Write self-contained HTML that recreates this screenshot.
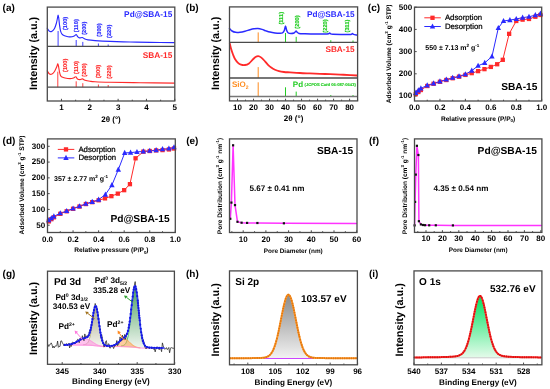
<!DOCTYPE html>
<html><head><meta charset="utf-8"><style>
html,body{margin:0;padding:0;background:#fff;}
svg{display:block;filter:blur(0.3px);font-family:"Liberation Sans", sans-serif;text-rendering:geometricPrecision;}
</style></head><body>
<svg width="550" height="389" viewBox="0 0 550 389">
<defs><linearGradient id="g1" gradientUnits="userSpaceOnUse" x1="0" y1="304" x2="0" y2="347"><stop offset="0" stop-color="#a4a282"/><stop offset="1" stop-color="#f6f6f0"/></linearGradient><linearGradient id="g2" gradientUnits="userSpaceOnUse" x1="0" y1="284" x2="0" y2="348"><stop offset="0" stop-color="#449c58"/><stop offset="1" stop-color="#f0f6f0"/></linearGradient><linearGradient id="gh" gradientUnits="userSpaceOnUse" x1="0" y1="294.7" x2="0" y2="358.3"><stop offset="0" stop-color="#8a8a8a"/><stop offset="1" stop-color="#f2f2f2"/></linearGradient><linearGradient id="gi" gradientUnits="userSpaceOnUse" x1="0" y1="295.9" x2="0" y2="357.6"><stop offset="0" stop-color="#00e060"/><stop offset="1" stop-color="#e4fbea"/></linearGradient></defs>
<rect width="550" height="389" fill="#fff"/>
<path d="M47.30,28.30 C47.67,28.80 48.72,30.82 49.50,31.30 C50.28,31.78 51.17,31.67 52.00,31.20 C52.83,30.73 53.78,29.78 54.50,28.50 C55.22,27.22 55.82,25.17 56.30,23.50 C56.78,21.83 57.10,19.92 57.40,18.50 C57.70,17.08 57.87,15.00 58.10,15.00 C58.33,15.00 58.55,16.75 58.80,18.50 C59.05,20.25 59.30,23.38 59.60,25.50 C59.90,27.62 60.20,29.75 60.60,31.20 C61.00,32.65 61.35,33.43 62.00,34.20 C62.65,34.97 63.50,35.38 64.50,35.80 C65.50,36.22 66.75,36.53 68.00,36.70 C69.25,36.87 70.92,36.95 72.00,36.80 C73.08,36.65 73.80,36.18 74.50,35.80 C75.20,35.42 75.68,34.37 76.20,34.50 C76.72,34.63 77.05,36.03 77.60,36.60 C78.15,37.17 78.72,37.75 79.50,37.90 C80.28,38.05 81.47,37.35 82.30,37.50 C83.13,37.65 83.55,38.40 84.50,38.80 C85.45,39.20 86.25,39.60 88.00,39.90 C89.75,40.20 91.33,40.35 95.00,40.60 C98.67,40.85 104.17,41.17 110.00,41.40 C115.83,41.63 123.33,41.83 130.00,42.00 C136.67,42.17 142.62,42.30 150.00,42.40 C157.38,42.50 170.25,42.57 174.30,42.60" stroke="#2a2aff" stroke-width="1.15" fill="none" stroke-linejoin="round" stroke-linecap="round"/>
<path d="M47.30,71.00 C47.67,71.50 48.72,73.50 49.50,74.00 C50.28,74.50 51.17,74.42 52.00,74.00 C52.83,73.58 53.78,72.53 54.50,71.50 C55.22,70.47 55.85,68.80 56.30,67.80 C56.75,66.80 56.95,66.17 57.20,65.50 C57.45,64.83 57.58,63.72 57.80,63.80 C58.02,63.88 58.23,64.72 58.50,66.00 C58.77,67.28 59.07,69.92 59.40,71.50 C59.73,73.08 60.07,74.58 60.50,75.50 C60.93,76.42 61.25,76.58 62.00,77.00 C62.75,77.42 63.67,77.73 65.00,78.00 C66.33,78.27 68.58,78.60 70.00,78.60 C71.42,78.60 72.52,78.30 73.50,78.00 C74.48,77.70 75.23,76.63 75.90,76.80 C76.57,76.97 76.82,78.53 77.50,79.00 C78.18,79.47 79.17,79.62 80.00,79.60 C80.83,79.58 81.67,78.80 82.50,78.90 C83.33,79.00 83.75,79.82 85.00,80.20 C86.25,80.58 88.33,80.95 90.00,81.20 C91.67,81.45 91.67,81.53 95.00,81.70 C98.33,81.87 102.50,82.03 110.00,82.20 C117.50,82.37 129.28,82.55 140.00,82.70 C150.72,82.85 168.58,83.03 174.30,83.10" stroke="#ff2a2a" stroke-width="1.15" fill="none" stroke-linejoin="round" stroke-linecap="round"/>
<line x1="58.10" y1="31.00" x2="58.10" y2="46.30" stroke="#2a2aff" stroke-width="0.9"/>
<line x1="76.20" y1="40.00" x2="76.20" y2="46.30" stroke="#2a2aff" stroke-width="0.9"/>
<line x1="82.80" y1="41.90" x2="82.80" y2="46.30" stroke="#2a2aff" stroke-width="0.9"/>
<line x1="98.40" y1="43.50" x2="98.40" y2="46.30" stroke="#2a2aff" stroke-width="0.9"/>
<line x1="108.20" y1="44.50" x2="108.20" y2="46.30" stroke="#2a2aff" stroke-width="0.9"/>
<line x1="57.80" y1="71.70" x2="57.80" y2="87.20" stroke="#ff2a2a" stroke-width="0.9"/>
<line x1="76.20" y1="81.30" x2="76.20" y2="87.20" stroke="#ff2a2a" stroke-width="0.9"/>
<line x1="82.80" y1="83.20" x2="82.80" y2="87.20" stroke="#ff2a2a" stroke-width="0.9"/>
<line x1="98.40" y1="84.50" x2="98.40" y2="87.20" stroke="#ff2a2a" stroke-width="0.9"/>
<line x1="108.20" y1="85.00" x2="108.20" y2="87.20" stroke="#ff2a2a" stroke-width="0.9"/>
<text x="67.30" y="23.40" font-size="5.7" font-weight="bold" text-anchor="middle" fill="#2a2aff" transform="rotate(-90 67.295 23.4)" stroke="#2a2aff" stroke-width="0.15">(100)</text>
<text x="78.00" y="25.70" font-size="5.7" font-weight="bold" text-anchor="middle" fill="#2a2aff" transform="rotate(-90 77.995 25.7)" stroke="#2a2aff" stroke-width="0.15">(110)</text>
<text x="85.70" y="28.20" font-size="5.7" font-weight="bold" text-anchor="middle" fill="#2a2aff" transform="rotate(-90 85.69500000000001 28.2)" stroke="#2a2aff" stroke-width="0.15">(200)</text>
<text x="100.59" y="30.00" font-size="5.7" font-weight="bold" text-anchor="middle" fill="#2a2aff" transform="rotate(-90 100.595 30.0)" stroke="#2a2aff" stroke-width="0.15">(300)</text>
<text x="110.70" y="31.30" font-size="5.7" font-weight="bold" text-anchor="middle" fill="#2a2aff" transform="rotate(-90 110.69500000000001 31.3)" stroke="#2a2aff" stroke-width="0.15">(220)</text>
<text x="67.40" y="65.30" font-size="5.7" font-weight="bold" text-anchor="middle" fill="#ff2a2a" transform="rotate(-90 67.39500000000001 65.3)" stroke="#ff2a2a" stroke-width="0.15">(100)</text>
<text x="77.90" y="67.50" font-size="5.7" font-weight="bold" text-anchor="middle" fill="#ff2a2a" transform="rotate(-90 77.89500000000001 67.5)" stroke="#ff2a2a" stroke-width="0.15">(110)</text>
<text x="85.80" y="70.10" font-size="5.7" font-weight="bold" text-anchor="middle" fill="#ff2a2a" transform="rotate(-90 85.795 70.1)" stroke="#ff2a2a" stroke-width="0.15">(200)</text>
<text x="100.40" y="71.40" font-size="5.7" font-weight="bold" text-anchor="middle" fill="#ff2a2a" transform="rotate(-90 100.39500000000001 71.4)" stroke="#ff2a2a" stroke-width="0.15">(300)</text>
<text x="111.20" y="72.10" font-size="5.7" font-weight="bold" text-anchor="middle" fill="#ff2a2a" transform="rotate(-90 111.19500000000001 72.1)" stroke="#ff2a2a" stroke-width="0.15">(220)</text>
<text x="172.30" y="17.30" font-size="8.3" font-weight="bold" text-anchor="end" fill="#2a2aff">Pd@SBA-15</text>
<text x="172.30" y="57.50" font-size="8.3" font-weight="bold" text-anchor="end" fill="#ff2a2a">SBA-15</text>
<line x1="47.30" y1="46.30" x2="174.80" y2="46.30" stroke="#4a4a4a" stroke-width="1.3"/>
<line x1="47.30" y1="87.20" x2="174.80" y2="87.20" stroke="#4a4a4a" stroke-width="1.3"/>
<rect x="47.30" y="7.10" width="127.50" height="93.90" fill="none" stroke="#4a4a4a" stroke-width="1.3"/>
<line x1="61.46" y1="101.00" x2="61.46" y2="98.80" stroke="#4a4a4a" stroke-width="1.0"/>
<text x="61.46" y="109.60" font-size="8" font-weight="bold" text-anchor="middle" fill="#000">1</text>
<line x1="89.79" y1="101.00" x2="89.79" y2="98.80" stroke="#4a4a4a" stroke-width="1.0"/>
<text x="89.79" y="109.60" font-size="8" font-weight="bold" text-anchor="middle" fill="#000">2</text>
<line x1="118.12" y1="101.00" x2="118.12" y2="98.80" stroke="#4a4a4a" stroke-width="1.0"/>
<text x="118.12" y="109.60" font-size="8" font-weight="bold" text-anchor="middle" fill="#000">3</text>
<line x1="146.45" y1="101.00" x2="146.45" y2="98.80" stroke="#4a4a4a" stroke-width="1.0"/>
<text x="146.45" y="109.60" font-size="8" font-weight="bold" text-anchor="middle" fill="#000">4</text>
<line x1="174.78" y1="101.00" x2="174.78" y2="98.80" stroke="#4a4a4a" stroke-width="1.0"/>
<text x="174.78" y="109.60" font-size="8" font-weight="bold" text-anchor="middle" fill="#000">5</text>
<line x1="75.63" y1="101.00" x2="75.63" y2="99.70" stroke="#4a4a4a" stroke-width="1.0"/>
<line x1="103.96" y1="101.00" x2="103.96" y2="99.70" stroke="#4a4a4a" stroke-width="1.0"/>
<line x1="132.29" y1="101.00" x2="132.29" y2="99.70" stroke="#4a4a4a" stroke-width="1.0"/>
<line x1="160.62" y1="101.00" x2="160.62" y2="99.70" stroke="#4a4a4a" stroke-width="1.0"/>
<text x="111" y="121.8" font-size="8" text-anchor="middle"><tspan font-weight="bold">2θ </tspan><tspan font-weight="bold">(°)</tspan></text>
<text x="36.64" y="53.40" font-size="10.8" font-weight="bold" text-anchor="middle" fill="#000" transform="rotate(-90 36.64 53.4)">Intensity (a.u.)</text>
<text x="2.60" y="10.70" font-size="10" font-weight="bold" text-anchor="start" fill="#000">(a)</text>
<line x1="258.20" y1="32.40" x2="258.20" y2="42.30" stroke="#ff8c1e" stroke-width="1.0"/>
<line x1="258.20" y1="67.10" x2="258.20" y2="78.00" stroke="#ff8c1e" stroke-width="1.0"/>
<line x1="258.20" y1="82.30" x2="258.20" y2="96.60" stroke="#ff8c1e" stroke-width="1.0"/>
<line x1="285.50" y1="33.00" x2="285.50" y2="42.30" stroke="#22cc22" stroke-width="1.0"/>
<line x1="296.20" y1="36.80" x2="296.20" y2="42.30" stroke="#22cc22" stroke-width="1.0"/>
<line x1="330.80" y1="40.20" x2="330.80" y2="42.30" stroke="#22cc22" stroke-width="1.0"/>
<line x1="353.00" y1="40.50" x2="353.00" y2="42.30" stroke="#22cc22" stroke-width="1.0"/>
<line x1="285.50" y1="87.30" x2="285.50" y2="96.60" stroke="#22cc22" stroke-width="1.0"/>
<line x1="296.20" y1="91.60" x2="296.20" y2="96.60" stroke="#22cc22" stroke-width="1.0"/>
<line x1="330.80" y1="95.00" x2="330.80" y2="96.60" stroke="#22cc22" stroke-width="1.0"/>
<line x1="353.00" y1="95.00" x2="353.00" y2="96.60" stroke="#22cc22" stroke-width="1.0"/>
<path d="M229.50,28.50 C229.92,28.92 230.98,30.37 232.00,31.00 C233.02,31.63 234.27,32.10 235.60,32.30 C236.93,32.50 238.43,32.38 240.00,32.20 C241.57,32.02 243.33,31.62 245.00,31.20 C246.67,30.78 248.50,30.10 250.00,29.70 C251.50,29.30 252.68,29.00 254.00,28.80 C255.32,28.60 256.57,28.40 257.90,28.50 C259.23,28.60 260.65,29.00 262.00,29.40 C263.35,29.80 264.67,30.45 266.00,30.90 C267.33,31.35 268.50,31.77 270.00,32.10 C271.50,32.43 273.50,32.72 275.00,32.90 C276.50,33.08 277.75,33.20 279.00,33.20 C280.25,33.20 281.62,33.35 282.50,32.90 C283.38,32.45 283.80,31.65 284.30,30.50 C284.80,29.35 285.10,26.00 285.50,26.00 C285.90,26.00 286.23,29.33 286.70,30.50 C287.17,31.67 287.58,32.50 288.30,33.00 C289.02,33.50 290.05,33.50 291.00,33.50 C291.95,33.50 293.28,33.28 294.00,33.00 C294.72,32.72 294.95,32.12 295.30,31.80 C295.65,31.48 295.82,31.07 296.10,31.10 C296.38,31.13 296.52,31.62 297.00,32.00 C297.48,32.38 297.67,33.10 299.00,33.40 C300.33,33.70 302.33,33.70 305.00,33.80 C307.67,33.90 311.67,33.95 315.00,34.00 C318.33,34.05 322.75,34.13 325.00,34.10 C327.25,34.07 327.73,33.98 328.50,33.80 C329.27,33.62 329.23,33.00 329.60,33.00 C329.97,33.00 330.13,33.58 330.70,33.80 C331.27,34.02 330.62,34.18 333.00,34.30 C335.38,34.42 342.00,34.48 345.00,34.50 C348.00,34.52 349.78,34.58 351.00,34.40 C352.22,34.22 351.88,33.40 352.30,33.40 C352.72,33.40 352.72,34.13 353.50,34.40 C354.28,34.67 356.42,34.90 357.00,35.00" stroke="#2a2aff" stroke-width="1.5" fill="none" stroke-linejoin="round" stroke-linecap="round"/>
<path d="M229.80,43.60 C230.00,44.42 230.47,46.68 231.00,48.50 C231.53,50.32 232.33,52.75 233.00,54.50 C233.67,56.25 234.17,57.62 235.00,59.00 C235.83,60.38 237.00,61.87 238.00,62.80 C239.00,63.73 239.83,64.23 241.00,64.60 C242.17,64.97 243.67,65.20 245.00,65.00 C246.33,64.80 247.72,64.30 249.00,63.40 C250.28,62.50 251.62,60.65 252.70,59.60 C253.78,58.55 254.58,57.67 255.50,57.10 C256.42,56.53 257.28,56.15 258.20,56.20 C259.12,56.25 259.87,56.55 261.00,57.40 C262.13,58.25 263.83,60.07 265.00,61.30 C266.17,62.53 266.97,63.75 268.00,64.80 C269.03,65.85 270.03,66.77 271.20,67.60 C272.37,68.43 273.70,69.20 275.00,69.80 C276.30,70.40 277.50,70.83 279.00,71.20 C280.50,71.57 282.17,71.80 284.00,72.00 C285.83,72.20 287.33,72.23 290.00,72.40 C292.67,72.57 296.67,72.83 300.00,73.00 C303.33,73.17 306.67,73.27 310.00,73.40 C313.33,73.53 316.67,73.67 320.00,73.80 C323.33,73.93 326.67,74.07 330.00,74.20 C333.33,74.33 336.67,74.45 340.00,74.60 C343.33,74.75 347.17,74.95 350.00,75.10 C352.83,75.25 355.83,75.43 357.00,75.50" stroke="#ff2a2a" stroke-width="1.8" fill="none" stroke-linejoin="round" stroke-linecap="round"/>
<text x="283.50" y="18.30" font-size="5.7" font-weight="bold" text-anchor="middle" fill="#22cc22" transform="rotate(-90 283.495 18.3)" stroke="#22cc22" stroke-width="0.15">(111)</text>
<text x="298.60" y="22.00" font-size="5.7" font-weight="bold" text-anchor="middle" fill="#22cc22" transform="rotate(-90 298.595 22.0)" stroke="#22cc22" stroke-width="0.15">(200)</text>
<text x="326.60" y="26.00" font-size="5.7" font-weight="bold" text-anchor="middle" fill="#22cc22" transform="rotate(-90 326.595 26.0)" stroke="#22cc22" stroke-width="0.15">(220)</text>
<text x="349.00" y="26.00" font-size="5.7" font-weight="bold" text-anchor="middle" fill="#22cc22" transform="rotate(-90 348.995 26.0)" stroke="#22cc22" stroke-width="0.15">(311)</text>
<text x="354.50" y="16.50" font-size="8.2" font-weight="bold" text-anchor="end" fill="#2a2aff">Pd@SBA-15</text>
<text x="354.60" y="51.60" font-size="8.2" font-weight="bold" text-anchor="end" fill="#ff2a2a">SBA-15</text>
<text x="231.9" y="86.9" font-size="8" font-weight="bold" fill="#ff8c1e">SiO<tspan font-size="5" dy="2">2</tspan></text>
<text x="292.80" y="87.00" font-size="8" font-weight="bold" text-anchor="start" fill="#22cc22">Pd</text>
<text x="304.60" y="86.00" font-size="4.1" font-weight="bold" text-anchor="start" fill="#22cc22" stroke="#22cc22" stroke-width="0.12">(JCPDS Card 06-087-0643)</text>
<line x1="229.50" y1="96.60" x2="357.60" y2="96.60" stroke="#777" stroke-width="1.5"/>
<line x1="229.50" y1="42.30" x2="357.60" y2="42.30" stroke="#4a4a4a" stroke-width="1.3"/>
<line x1="229.50" y1="78.00" x2="357.60" y2="78.00" stroke="#4a4a4a" stroke-width="1.3"/>
<rect x="229.50" y="6.90" width="128.10" height="94.00" fill="none" stroke="#4a4a4a" stroke-width="1.3"/>
<line x1="237.51" y1="100.90" x2="237.51" y2="98.70" stroke="#4a4a4a" stroke-width="1.0"/>
<text x="237.51" y="110.10" font-size="8" font-weight="bold" text-anchor="middle" fill="#000">10</text>
<line x1="253.52" y1="100.90" x2="253.52" y2="98.70" stroke="#4a4a4a" stroke-width="1.0"/>
<text x="253.52" y="110.10" font-size="8" font-weight="bold" text-anchor="middle" fill="#000">20</text>
<line x1="269.53" y1="100.90" x2="269.53" y2="98.70" stroke="#4a4a4a" stroke-width="1.0"/>
<text x="269.53" y="110.10" font-size="8" font-weight="bold" text-anchor="middle" fill="#000">30</text>
<line x1="285.55" y1="100.90" x2="285.55" y2="98.70" stroke="#4a4a4a" stroke-width="1.0"/>
<text x="285.55" y="110.10" font-size="8" font-weight="bold" text-anchor="middle" fill="#000">40</text>
<line x1="301.56" y1="100.90" x2="301.56" y2="98.70" stroke="#4a4a4a" stroke-width="1.0"/>
<text x="301.56" y="110.10" font-size="8" font-weight="bold" text-anchor="middle" fill="#000">50</text>
<line x1="317.57" y1="100.90" x2="317.57" y2="98.70" stroke="#4a4a4a" stroke-width="1.0"/>
<text x="317.57" y="110.10" font-size="8" font-weight="bold" text-anchor="middle" fill="#000">60</text>
<line x1="333.58" y1="100.90" x2="333.58" y2="98.70" stroke="#4a4a4a" stroke-width="1.0"/>
<text x="333.58" y="110.10" font-size="8" font-weight="bold" text-anchor="middle" fill="#000">70</text>
<line x1="349.60" y1="100.90" x2="349.60" y2="98.70" stroke="#4a4a4a" stroke-width="1.0"/>
<text x="349.60" y="110.10" font-size="8" font-weight="bold" text-anchor="middle" fill="#000">80</text>
<line x1="245.51" y1="100.90" x2="245.51" y2="99.60" stroke="#4a4a4a" stroke-width="1.0"/>
<line x1="261.53" y1="100.90" x2="261.53" y2="99.60" stroke="#4a4a4a" stroke-width="1.0"/>
<line x1="277.54" y1="100.90" x2="277.54" y2="99.60" stroke="#4a4a4a" stroke-width="1.0"/>
<line x1="293.55" y1="100.90" x2="293.55" y2="99.60" stroke="#4a4a4a" stroke-width="1.0"/>
<line x1="309.56" y1="100.90" x2="309.56" y2="99.60" stroke="#4a4a4a" stroke-width="1.0"/>
<line x1="325.58" y1="100.90" x2="325.58" y2="99.60" stroke="#4a4a4a" stroke-width="1.0"/>
<line x1="341.59" y1="100.90" x2="341.59" y2="99.60" stroke="#4a4a4a" stroke-width="1.0"/>
<line x1="357.60" y1="100.90" x2="357.60" y2="99.60" stroke="#4a4a4a" stroke-width="1.0"/>
<text x="293.6" y="121.4" font-size="8" text-anchor="middle"><tspan font-weight="bold">2θ </tspan><tspan font-weight="bold">(°)</tspan></text>
<text x="218.64" y="53.30" font-size="10.8" font-weight="bold" text-anchor="middle" fill="#000" transform="rotate(-90 218.64000000000001 53.3)">Intensity (a.u.)</text>
<text x="185.80" y="10.70" font-size="10" font-weight="bold" text-anchor="start" fill="#000">(b)</text>
<path d="M415.77,94.22 L418.32,92.00 L420.86,90.01 L427.22,86.01 L433.58,83.79 L439.94,81.79 L446.30,80.02 L452.66,78.24 L459.02,76.69 L465.38,74.91 L471.74,73.13 L478.10,71.14 L484.46,69.14 L490.82,66.92 L497.18,64.25 L502.78,59.81 L509.14,33.84 L516.26,20.96 L522.62,19.63 L528.98,18.97 L535.34,16.75 L540.43,14.97" stroke="#ff2a2a" stroke-width="1.0" fill="none" stroke-linejoin="round" stroke-linecap="round"/>
<path d="M540.43,13.64 L535.34,15.19 L528.98,16.75 L522.62,17.63 L516.26,18.97 L509.90,20.08 L503.54,20.96 L498.32,28.07 L491.96,56.48 L484.71,62.92 L478.10,65.81 L471.74,70.69 L465.38,74.24 L459.02,76.24 L452.66,77.80 L446.30,79.57 L439.94,81.35 L433.58,83.35 L427.22,85.34 L420.86,88.45 L418.32,90.45 L415.77,92.89" stroke="#2a2aff" stroke-width="1.0" fill="none" stroke-linejoin="round" stroke-linecap="round"/>
<rect x="413.62" y="92.07" width="4.3" height="4.3" fill="#ff2a2a"/>
<rect x="416.17" y="89.85" width="4.3" height="4.3" fill="#ff2a2a"/>
<rect x="418.71" y="87.86" width="4.3" height="4.3" fill="#ff2a2a"/>
<rect x="425.07" y="83.86" width="4.3" height="4.3" fill="#ff2a2a"/>
<rect x="431.43" y="81.64" width="4.3" height="4.3" fill="#ff2a2a"/>
<rect x="437.79" y="79.64" width="4.3" height="4.3" fill="#ff2a2a"/>
<rect x="444.15" y="77.87" width="4.3" height="4.3" fill="#ff2a2a"/>
<rect x="450.51" y="76.09" width="4.3" height="4.3" fill="#ff2a2a"/>
<rect x="456.87" y="74.54" width="4.3" height="4.3" fill="#ff2a2a"/>
<rect x="463.23" y="72.76" width="4.3" height="4.3" fill="#ff2a2a"/>
<rect x="469.59" y="70.98" width="4.3" height="4.3" fill="#ff2a2a"/>
<rect x="475.95" y="68.99" width="4.3" height="4.3" fill="#ff2a2a"/>
<rect x="482.31" y="66.99" width="4.3" height="4.3" fill="#ff2a2a"/>
<rect x="488.67" y="64.77" width="4.3" height="4.3" fill="#ff2a2a"/>
<rect x="495.03" y="62.10" width="4.3" height="4.3" fill="#ff2a2a"/>
<rect x="500.63" y="57.66" width="4.3" height="4.3" fill="#ff2a2a"/>
<rect x="506.99" y="31.69" width="4.3" height="4.3" fill="#ff2a2a"/>
<rect x="514.11" y="18.81" width="4.3" height="4.3" fill="#ff2a2a"/>
<rect x="520.47" y="17.48" width="4.3" height="4.3" fill="#ff2a2a"/>
<rect x="526.83" y="16.82" width="4.3" height="4.3" fill="#ff2a2a"/>
<rect x="533.19" y="14.60" width="4.3" height="4.3" fill="#ff2a2a"/>
<rect x="538.28" y="12.82" width="4.3" height="4.3" fill="#ff2a2a"/>
<path d="M540.43,10.56 L543.13,15.69 L537.73,15.69 Z" fill="#2a2aff"/>
<path d="M535.34,12.11 L538.04,17.24 L532.64,17.24 Z" fill="#2a2aff"/>
<path d="M528.98,13.67 L531.68,18.80 L526.28,18.80 Z" fill="#2a2aff"/>
<path d="M522.62,14.56 L525.32,19.69 L519.92,19.69 Z" fill="#2a2aff"/>
<path d="M516.26,15.89 L518.96,21.02 L513.56,21.02 Z" fill="#2a2aff"/>
<path d="M509.90,17.00 L512.60,22.13 L507.20,22.13 Z" fill="#2a2aff"/>
<path d="M503.54,17.89 L506.24,23.02 L500.84,23.02 Z" fill="#2a2aff"/>
<path d="M498.32,24.99 L501.02,30.12 L495.62,30.12 Z" fill="#2a2aff"/>
<path d="M491.96,53.41 L494.66,58.54 L489.26,58.54 Z" fill="#2a2aff"/>
<path d="M484.71,59.84 L487.41,64.97 L482.01,64.97 Z" fill="#2a2aff"/>
<path d="M478.10,62.73 L480.80,67.86 L475.40,67.86 Z" fill="#2a2aff"/>
<path d="M471.74,67.61 L474.44,72.74 L469.04,72.74 Z" fill="#2a2aff"/>
<path d="M465.38,71.17 L468.08,76.30 L462.68,76.30 Z" fill="#2a2aff"/>
<path d="M459.02,73.16 L461.72,78.29 L456.32,78.29 Z" fill="#2a2aff"/>
<path d="M452.66,74.72 L455.36,79.85 L449.96,79.85 Z" fill="#2a2aff"/>
<path d="M446.30,76.49 L449.00,81.62 L443.60,81.62 Z" fill="#2a2aff"/>
<path d="M439.94,78.27 L442.64,83.40 L437.24,83.40 Z" fill="#2a2aff"/>
<path d="M433.58,80.27 L436.28,85.40 L430.88,85.40 Z" fill="#2a2aff"/>
<path d="M427.22,82.27 L429.92,87.40 L424.52,87.40 Z" fill="#2a2aff"/>
<path d="M420.86,85.37 L423.56,90.50 L418.16,90.50 Z" fill="#2a2aff"/>
<path d="M418.32,87.37 L421.02,92.50 L415.62,92.50 Z" fill="#2a2aff"/>
<path d="M415.77,89.81 L418.47,94.94 L413.07,94.94 Z" fill="#2a2aff"/>
<line x1="424.30" y1="17.80" x2="440.80" y2="17.80" stroke="#ff2a2a" stroke-width="1.0"/>
<rect x="430.35" y="15.65" width="4.3" height="4.3" fill="#ff2a2a"/>
<text x="444.90" y="20.10" font-size="7.8" font-weight="normal" text-anchor="start" fill="#000" stroke="#000" stroke-width="0.22">Adsorption</text>
<line x1="424.30" y1="26.50" x2="440.80" y2="26.50" stroke="#2a2aff" stroke-width="1.0"/>
<path d="M432.50,23.42 L435.20,28.55 L429.80,28.55 Z" fill="#2a2aff"/>
<text x="444.90" y="28.80" font-size="7.8" font-weight="normal" text-anchor="start" fill="#000" stroke="#000" stroke-width="0.22">Desorption</text>
<text x="425.3" y="50.0" font-size="7" font-weight="bold">550 ± 7.13 m<tspan font-size="4.5" dy="-2.6">2</tspan><tspan dy="2.6"> g</tspan><tspan font-size="4.5" dy="-2.6">-1</tspan></text>
<text x="537.40" y="89.60" font-size="10.2" font-weight="bold" text-anchor="end" fill="#000">SBA-15</text>
<rect x="414.50" y="7.20" width="127.20" height="93.80" fill="none" stroke="#4a4a4a" stroke-width="1.3"/>
<line x1="414.50" y1="96.00" x2="416.70" y2="96.00" stroke="#4a4a4a" stroke-width="1.0"/>
<text x="412.20" y="98.35" font-size="8" font-weight="bold" text-anchor="end" fill="#000">100</text>
<line x1="414.50" y1="73.80" x2="416.70" y2="73.80" stroke="#4a4a4a" stroke-width="1.0"/>
<text x="412.20" y="76.15" font-size="8" font-weight="bold" text-anchor="end" fill="#000">200</text>
<line x1="414.50" y1="51.60" x2="416.70" y2="51.60" stroke="#4a4a4a" stroke-width="1.0"/>
<text x="412.20" y="53.95" font-size="8" font-weight="bold" text-anchor="end" fill="#000">300</text>
<line x1="414.50" y1="29.40" x2="416.70" y2="29.40" stroke="#4a4a4a" stroke-width="1.0"/>
<text x="412.20" y="31.75" font-size="8" font-weight="bold" text-anchor="end" fill="#000">400</text>
<line x1="414.50" y1="7.20" x2="416.70" y2="7.20" stroke="#4a4a4a" stroke-width="1.0"/>
<text x="412.20" y="9.55" font-size="8" font-weight="bold" text-anchor="end" fill="#000">500</text>
<line x1="414.50" y1="101.00" x2="414.50" y2="98.80" stroke="#4a4a4a" stroke-width="1.0"/>
<text x="414.50" y="110.10" font-size="8" font-weight="bold" text-anchor="middle" fill="#000">0.0</text>
<line x1="427.22" y1="101.00" x2="427.22" y2="99.70" stroke="#4a4a4a" stroke-width="1.0"/>
<line x1="439.94" y1="101.00" x2="439.94" y2="98.80" stroke="#4a4a4a" stroke-width="1.0"/>
<text x="439.94" y="110.10" font-size="8" font-weight="bold" text-anchor="middle" fill="#000">0.2</text>
<line x1="452.66" y1="101.00" x2="452.66" y2="99.70" stroke="#4a4a4a" stroke-width="1.0"/>
<line x1="465.38" y1="101.00" x2="465.38" y2="98.80" stroke="#4a4a4a" stroke-width="1.0"/>
<text x="465.38" y="110.10" font-size="8" font-weight="bold" text-anchor="middle" fill="#000">0.4</text>
<line x1="478.10" y1="101.00" x2="478.10" y2="99.70" stroke="#4a4a4a" stroke-width="1.0"/>
<line x1="490.82" y1="101.00" x2="490.82" y2="98.80" stroke="#4a4a4a" stroke-width="1.0"/>
<text x="490.82" y="110.10" font-size="8" font-weight="bold" text-anchor="middle" fill="#000">0.6</text>
<line x1="503.54" y1="101.00" x2="503.54" y2="99.70" stroke="#4a4a4a" stroke-width="1.0"/>
<line x1="516.26" y1="101.00" x2="516.26" y2="98.80" stroke="#4a4a4a" stroke-width="1.0"/>
<text x="516.26" y="110.10" font-size="8" font-weight="bold" text-anchor="middle" fill="#000">0.8</text>
<line x1="528.98" y1="101.00" x2="528.98" y2="99.70" stroke="#4a4a4a" stroke-width="1.0"/>
<line x1="541.70" y1="101.00" x2="541.70" y2="98.80" stroke="#4a4a4a" stroke-width="1.0"/>
<text x="541.70" y="110.10" font-size="8" font-weight="bold" text-anchor="middle" fill="#000">1.0</text>
<text x="478.10" y="120.70" font-size="6.6" font-weight="bold" text-anchor="middle">Relative pressure (P/P<tspan font-size="4.4" dy="1.6">0</tspan><tspan dy="-1.6">)</tspan></text>
<text x="390.80" y="53.90" font-size="6.62" font-weight="bold" text-anchor="middle" transform="rotate(-90 390.80 53.90)">Adsorbed Volume (cm<tspan font-size="4.4" dy="-2.4">3</tspan><tspan dy="2.4"> g</tspan><tspan font-size="4.4" dy="-2.4">-1</tspan><tspan dy="2.4"> STP)</tspan></text>
<text x="367.80" y="10.70" font-size="10" font-weight="bold" text-anchor="start" fill="#000">(c)</text>
<path d="M48.78,221.41 L51.33,219.20 L53.89,217.31 L60.28,213.84 L66.67,211.31 L73.06,208.79 L79.45,206.58 L85.84,204.05 L92.23,202.16 L98.62,200.27 L105.01,198.37 L111.40,196.16 L117.79,193.64 L124.18,190.17 L129.93,184.17 L135.55,158.29 L143.35,151.67 L149.74,151.03 L156.13,150.40 L162.52,150.09 L168.91,149.46 L174.02,148.51" stroke="#ff2a2a" stroke-width="1.0" fill="none" stroke-linejoin="round" stroke-linecap="round"/>
<path d="M174.02,147.25 L168.91,148.51 L162.52,149.14 L156.13,150.09 L149.74,150.72 L143.35,151.35 L136.96,151.98 L130.57,152.61 L124.69,152.93 L118.30,169.65 L111.91,185.12 L105.39,194.59 L98.62,199.64 L92.23,201.85 L85.84,203.74 L79.45,206.26 L73.06,208.47 L66.67,211.00 L60.28,213.21 L53.89,216.36 L51.33,218.26 L48.78,220.15" stroke="#2a2aff" stroke-width="1.0" fill="none" stroke-linejoin="round" stroke-linecap="round"/>
<rect x="46.63" y="219.26" width="4.3" height="4.3" fill="#ff2a2a"/>
<rect x="49.18" y="217.05" width="4.3" height="4.3" fill="#ff2a2a"/>
<rect x="51.74" y="215.16" width="4.3" height="4.3" fill="#ff2a2a"/>
<rect x="58.13" y="211.69" width="4.3" height="4.3" fill="#ff2a2a"/>
<rect x="64.52" y="209.16" width="4.3" height="4.3" fill="#ff2a2a"/>
<rect x="70.91" y="206.64" width="4.3" height="4.3" fill="#ff2a2a"/>
<rect x="77.30" y="204.43" width="4.3" height="4.3" fill="#ff2a2a"/>
<rect x="83.69" y="201.90" width="4.3" height="4.3" fill="#ff2a2a"/>
<rect x="90.08" y="200.01" width="4.3" height="4.3" fill="#ff2a2a"/>
<rect x="96.47" y="198.12" width="4.3" height="4.3" fill="#ff2a2a"/>
<rect x="102.86" y="196.22" width="4.3" height="4.3" fill="#ff2a2a"/>
<rect x="109.25" y="194.01" width="4.3" height="4.3" fill="#ff2a2a"/>
<rect x="115.64" y="191.49" width="4.3" height="4.3" fill="#ff2a2a"/>
<rect x="122.03" y="188.02" width="4.3" height="4.3" fill="#ff2a2a"/>
<rect x="127.78" y="182.02" width="4.3" height="4.3" fill="#ff2a2a"/>
<rect x="133.40" y="156.14" width="4.3" height="4.3" fill="#ff2a2a"/>
<rect x="141.20" y="149.52" width="4.3" height="4.3" fill="#ff2a2a"/>
<rect x="147.59" y="148.88" width="4.3" height="4.3" fill="#ff2a2a"/>
<rect x="153.98" y="148.25" width="4.3" height="4.3" fill="#ff2a2a"/>
<rect x="160.37" y="147.94" width="4.3" height="4.3" fill="#ff2a2a"/>
<rect x="166.76" y="147.31" width="4.3" height="4.3" fill="#ff2a2a"/>
<rect x="171.87" y="146.36" width="4.3" height="4.3" fill="#ff2a2a"/>
<path d="M174.02,144.17 L176.72,149.30 L171.32,149.30 Z" fill="#2a2aff"/>
<path d="M168.91,145.43 L171.61,150.56 L166.21,150.56 Z" fill="#2a2aff"/>
<path d="M162.52,146.06 L165.22,151.19 L159.82,151.19 Z" fill="#2a2aff"/>
<path d="M156.13,147.01 L158.83,152.14 L153.43,152.14 Z" fill="#2a2aff"/>
<path d="M149.74,147.64 L152.44,152.77 L147.04,152.77 Z" fill="#2a2aff"/>
<path d="M143.35,148.27 L146.05,153.40 L140.65,153.40 Z" fill="#2a2aff"/>
<path d="M136.96,148.90 L139.66,154.03 L134.26,154.03 Z" fill="#2a2aff"/>
<path d="M130.57,149.53 L133.27,154.66 L127.87,154.66 Z" fill="#2a2aff"/>
<path d="M124.69,149.85 L127.39,154.98 L121.99,154.98 Z" fill="#2a2aff"/>
<path d="M118.30,166.58 L121.00,171.71 L115.60,171.71 Z" fill="#2a2aff"/>
<path d="M111.91,182.04 L114.61,187.17 L109.21,187.17 Z" fill="#2a2aff"/>
<path d="M105.39,191.51 L108.09,196.64 L102.69,196.64 Z" fill="#2a2aff"/>
<path d="M98.62,196.56 L101.32,201.69 L95.92,201.69 Z" fill="#2a2aff"/>
<path d="M92.23,198.77 L94.93,203.90 L89.53,203.90 Z" fill="#2a2aff"/>
<path d="M85.84,200.66 L88.54,205.79 L83.14,205.79 Z" fill="#2a2aff"/>
<path d="M79.45,203.19 L82.15,208.32 L76.75,208.32 Z" fill="#2a2aff"/>
<path d="M73.06,205.40 L75.76,210.53 L70.36,210.53 Z" fill="#2a2aff"/>
<path d="M66.67,207.92 L69.37,213.05 L63.97,213.05 Z" fill="#2a2aff"/>
<path d="M60.28,210.13 L62.98,215.26 L57.58,215.26 Z" fill="#2a2aff"/>
<path d="M53.89,213.29 L56.59,218.42 L51.19,218.42 Z" fill="#2a2aff"/>
<path d="M51.33,215.18 L54.03,220.31 L48.63,220.31 Z" fill="#2a2aff"/>
<path d="M48.78,217.07 L51.48,222.20 L46.08,222.20 Z" fill="#2a2aff"/>
<line x1="57.80" y1="149.40" x2="74.30" y2="149.40" stroke="#ff2a2a" stroke-width="1.0"/>
<rect x="63.85" y="147.25" width="4.3" height="4.3" fill="#ff2a2a"/>
<text x="78.40" y="151.70" font-size="7.8" font-weight="normal" text-anchor="start" fill="#000" stroke="#000" stroke-width="0.22">Adsorption</text>
<line x1="57.80" y1="157.90" x2="74.30" y2="157.90" stroke="#2a2aff" stroke-width="1.0"/>
<path d="M66.00,154.82 L68.70,159.95 L63.30,159.95 Z" fill="#2a2aff"/>
<text x="78.40" y="160.20" font-size="7.8" font-weight="normal" text-anchor="start" fill="#000" stroke="#000" stroke-width="0.22">Desorption</text>
<text x="54.0" y="180.6" font-size="7" font-weight="bold">357 ± 2.77 m<tspan font-size="4.5" dy="-2.6">2</tspan><tspan dy="2.6"> g</tspan><tspan font-size="4.5" dy="-2.6">-1</tspan></text>
<text x="169.60" y="221.60" font-size="10.2" font-weight="bold" text-anchor="end" fill="#000">Pd@SBA-15</text>
<rect x="47.50" y="138.90" width="127.80" height="93.60" fill="none" stroke="#4a4a4a" stroke-width="1.3"/>
<line x1="47.50" y1="225.20" x2="49.70" y2="225.20" stroke="#4a4a4a" stroke-width="1.0"/>
<text x="45.20" y="227.55" font-size="8" font-weight="bold" text-anchor="end" fill="#000">50</text>
<line x1="47.50" y1="209.42" x2="49.70" y2="209.42" stroke="#4a4a4a" stroke-width="1.0"/>
<text x="45.20" y="211.77" font-size="8" font-weight="bold" text-anchor="end" fill="#000">100</text>
<line x1="47.50" y1="193.64" x2="49.70" y2="193.64" stroke="#4a4a4a" stroke-width="1.0"/>
<text x="45.20" y="195.99" font-size="8" font-weight="bold" text-anchor="end" fill="#000">150</text>
<line x1="47.50" y1="177.86" x2="49.70" y2="177.86" stroke="#4a4a4a" stroke-width="1.0"/>
<text x="45.20" y="180.21" font-size="8" font-weight="bold" text-anchor="end" fill="#000">200</text>
<line x1="47.50" y1="162.08" x2="49.70" y2="162.08" stroke="#4a4a4a" stroke-width="1.0"/>
<text x="45.20" y="164.43" font-size="8" font-weight="bold" text-anchor="end" fill="#000">250</text>
<line x1="47.50" y1="146.30" x2="49.70" y2="146.30" stroke="#4a4a4a" stroke-width="1.0"/>
<text x="45.20" y="148.65" font-size="8" font-weight="bold" text-anchor="end" fill="#000">300</text>
<line x1="47.50" y1="232.50" x2="47.50" y2="230.30" stroke="#4a4a4a" stroke-width="1.0"/>
<text x="47.50" y="241.60" font-size="8" font-weight="bold" text-anchor="middle" fill="#000">0.0</text>
<line x1="60.28" y1="232.50" x2="60.28" y2="231.20" stroke="#4a4a4a" stroke-width="1.0"/>
<line x1="73.06" y1="232.50" x2="73.06" y2="230.30" stroke="#4a4a4a" stroke-width="1.0"/>
<text x="73.06" y="241.60" font-size="8" font-weight="bold" text-anchor="middle" fill="#000">0.2</text>
<line x1="85.84" y1="232.50" x2="85.84" y2="231.20" stroke="#4a4a4a" stroke-width="1.0"/>
<line x1="98.62" y1="232.50" x2="98.62" y2="230.30" stroke="#4a4a4a" stroke-width="1.0"/>
<text x="98.62" y="241.60" font-size="8" font-weight="bold" text-anchor="middle" fill="#000">0.4</text>
<line x1="111.40" y1="232.50" x2="111.40" y2="231.20" stroke="#4a4a4a" stroke-width="1.0"/>
<line x1="124.18" y1="232.50" x2="124.18" y2="230.30" stroke="#4a4a4a" stroke-width="1.0"/>
<text x="124.18" y="241.60" font-size="8" font-weight="bold" text-anchor="middle" fill="#000">0.6</text>
<line x1="136.96" y1="232.50" x2="136.96" y2="231.20" stroke="#4a4a4a" stroke-width="1.0"/>
<line x1="149.74" y1="232.50" x2="149.74" y2="230.30" stroke="#4a4a4a" stroke-width="1.0"/>
<text x="149.74" y="241.60" font-size="8" font-weight="bold" text-anchor="middle" fill="#000">0.8</text>
<line x1="162.52" y1="232.50" x2="162.52" y2="231.20" stroke="#4a4a4a" stroke-width="1.0"/>
<line x1="175.30" y1="232.50" x2="175.30" y2="230.30" stroke="#4a4a4a" stroke-width="1.0"/>
<text x="175.30" y="241.60" font-size="8" font-weight="bold" text-anchor="middle" fill="#000">1.0</text>
<text x="111.40" y="252.20" font-size="6.6" font-weight="bold" text-anchor="middle">Relative pressure (P/P<tspan font-size="4.4" dy="1.6">0</tspan><tspan dy="-1.6">)</tspan></text>
<text x="23.80" y="185.00" font-size="6.62" font-weight="bold" text-anchor="middle" transform="rotate(-90 23.80 185.00)">Adsorbed Volume (cm<tspan font-size="4.4" dy="-2.4">3</tspan><tspan dy="2.4"> g</tspan><tspan font-size="4.4" dy="-2.4">-1</tspan><tspan dy="2.4"> STP)</tspan></text>
<text x="2.60" y="143.70" font-size="10" font-weight="bold" text-anchor="start" fill="#000">(d)</text>
<path d="M230.30,218.80 L231.40,202.60 L233.10,145.30 L235.00,205.10 L237.50,221.80 L241.60,222.70 L247.10,222.90 L257.40,223.00 L283.90,223.30 L356.40,223.50" stroke="#ff33ff" stroke-width="1.5" fill="none" stroke-linejoin="round" stroke-linecap="round"/>
<rect x="229.20" y="217.70" width="2.2" height="2.2" fill="#111"/>
<rect x="230.30" y="201.50" width="2.2" height="2.2" fill="#111"/>
<rect x="232.00" y="144.20" width="2.2" height="2.2" fill="#111"/>
<rect x="233.90" y="204.00" width="2.2" height="2.2" fill="#111"/>
<rect x="236.40" y="220.70" width="2.2" height="2.2" fill="#111"/>
<rect x="240.50" y="221.60" width="2.2" height="2.2" fill="#111"/>
<rect x="246.00" y="221.80" width="2.2" height="2.2" fill="#111"/>
<rect x="256.30" y="221.90" width="2.2" height="2.2" fill="#111"/>
<rect x="282.80" y="222.20" width="2.2" height="2.2" fill="#111"/>
<text x="353.20" y="153.90" font-size="10.2" font-weight="bold" text-anchor="end" fill="#000">SBA-15</text>
<text x="249.50" y="190.50" font-size="8.1" font-weight="bold" text-anchor="start" fill="#000">5.67 ± 0.41 nm</text>
<rect x="229.50" y="138.90" width="127.50" height="93.60" fill="none" stroke="#4a4a4a" stroke-width="1.3"/>
<line x1="243.20" y1="232.50" x2="243.20" y2="230.30" stroke="#4a4a4a" stroke-width="1.0"/>
<text x="243.20" y="241.50" font-size="8" font-weight="bold" text-anchor="middle" fill="#000">10</text>
<line x1="265.90" y1="232.50" x2="265.90" y2="230.30" stroke="#4a4a4a" stroke-width="1.0"/>
<text x="265.90" y="241.50" font-size="8" font-weight="bold" text-anchor="middle" fill="#000">20</text>
<line x1="288.60" y1="232.50" x2="288.60" y2="230.30" stroke="#4a4a4a" stroke-width="1.0"/>
<text x="288.60" y="241.50" font-size="8" font-weight="bold" text-anchor="middle" fill="#000">30</text>
<line x1="311.30" y1="232.50" x2="311.30" y2="230.30" stroke="#4a4a4a" stroke-width="1.0"/>
<text x="311.30" y="241.50" font-size="8" font-weight="bold" text-anchor="middle" fill="#000">40</text>
<line x1="334.00" y1="232.50" x2="334.00" y2="230.30" stroke="#4a4a4a" stroke-width="1.0"/>
<text x="334.00" y="241.50" font-size="8" font-weight="bold" text-anchor="middle" fill="#000">50</text>
<line x1="356.70" y1="232.50" x2="356.70" y2="230.30" stroke="#4a4a4a" stroke-width="1.0"/>
<text x="356.70" y="241.50" font-size="8" font-weight="bold" text-anchor="middle" fill="#000">60</text>
<line x1="231.85" y1="232.50" x2="231.85" y2="231.20" stroke="#4a4a4a" stroke-width="1.0"/>
<line x1="254.55" y1="232.50" x2="254.55" y2="231.20" stroke="#4a4a4a" stroke-width="1.0"/>
<line x1="277.25" y1="232.50" x2="277.25" y2="231.20" stroke="#4a4a4a" stroke-width="1.0"/>
<line x1="299.95" y1="232.50" x2="299.95" y2="231.20" stroke="#4a4a4a" stroke-width="1.0"/>
<line x1="322.65" y1="232.50" x2="322.65" y2="231.20" stroke="#4a4a4a" stroke-width="1.0"/>
<line x1="345.35" y1="232.50" x2="345.35" y2="231.20" stroke="#4a4a4a" stroke-width="1.0"/>
<text x="293.25" y="252.50" font-size="6.4" font-weight="bold" text-anchor="middle" fill="#000">Pore Diameter (nm)</text>
<text x="221.80" y="186.00" font-size="6.55" font-weight="bold" text-anchor="middle" transform="rotate(-90 221.80 186.00)">Pore Distribution (cm<tspan font-size="4.3" dy="-2.4">3</tspan><tspan dy="2.4"> g</tspan><tspan font-size="4.3" dy="-2.4">-1</tspan><tspan dy="2.4"> nm</tspan><tspan font-size="4.3" dy="-2.4">-1</tspan><tspan dy="2.4">)</tspan></text>
<text x="186.20" y="143.70" font-size="10" font-weight="bold" text-anchor="start" fill="#000">(e)</text>
<path d="M414.60,225.40 L415.10,201.90 L415.80,174.60 L416.90,145.80 L418.40,155.00 L418.90,221.20 L420.90,224.40 L423.10,225.00 L425.10,225.20 L429.20,225.30 L435.80,225.30 L452.90,225.40 L541.30,225.40" stroke="#ff33ff" stroke-width="1.5" fill="none" stroke-linejoin="round" stroke-linecap="round"/>
<rect x="413.50" y="224.30" width="2.2" height="2.2" fill="#111"/>
<rect x="414.00" y="200.80" width="2.2" height="2.2" fill="#111"/>
<rect x="414.70" y="173.50" width="2.2" height="2.2" fill="#111"/>
<rect x="415.80" y="144.70" width="2.2" height="2.2" fill="#111"/>
<rect x="417.30" y="153.90" width="2.2" height="2.2" fill="#111"/>
<rect x="417.80" y="220.10" width="2.2" height="2.2" fill="#111"/>
<rect x="419.80" y="223.30" width="2.2" height="2.2" fill="#111"/>
<rect x="422.00" y="223.90" width="2.2" height="2.2" fill="#111"/>
<rect x="424.00" y="224.10" width="2.2" height="2.2" fill="#111"/>
<rect x="428.10" y="224.20" width="2.2" height="2.2" fill="#111"/>
<rect x="434.70" y="224.20" width="2.2" height="2.2" fill="#111"/>
<rect x="451.80" y="224.30" width="2.2" height="2.2" fill="#111"/>
<text x="536.80" y="153.90" font-size="10.2" font-weight="bold" text-anchor="end" fill="#000">Pd@SBA-15</text>
<text x="433.50" y="190.50" font-size="8.1" font-weight="bold" text-anchor="start" fill="#000">4.35 ± 0.54 nm</text>
<rect x="414.50" y="138.90" width="127.40" height="93.50" fill="none" stroke="#4a4a4a" stroke-width="1.3"/>
<line x1="426.00" y1="232.40" x2="426.00" y2="230.20" stroke="#4a4a4a" stroke-width="1.0"/>
<text x="426.00" y="241.40" font-size="8" font-weight="bold" text-anchor="middle" fill="#000">10</text>
<line x1="442.40" y1="232.40" x2="442.40" y2="230.20" stroke="#4a4a4a" stroke-width="1.0"/>
<text x="442.40" y="241.40" font-size="8" font-weight="bold" text-anchor="middle" fill="#000">20</text>
<line x1="458.80" y1="232.40" x2="458.80" y2="230.20" stroke="#4a4a4a" stroke-width="1.0"/>
<text x="458.80" y="241.40" font-size="8" font-weight="bold" text-anchor="middle" fill="#000">30</text>
<line x1="475.20" y1="232.40" x2="475.20" y2="230.20" stroke="#4a4a4a" stroke-width="1.0"/>
<text x="475.20" y="241.40" font-size="8" font-weight="bold" text-anchor="middle" fill="#000">40</text>
<line x1="491.60" y1="232.40" x2="491.60" y2="230.20" stroke="#4a4a4a" stroke-width="1.0"/>
<text x="491.60" y="241.40" font-size="8" font-weight="bold" text-anchor="middle" fill="#000">50</text>
<line x1="508.00" y1="232.40" x2="508.00" y2="230.20" stroke="#4a4a4a" stroke-width="1.0"/>
<text x="508.00" y="241.40" font-size="8" font-weight="bold" text-anchor="middle" fill="#000">60</text>
<line x1="524.40" y1="232.40" x2="524.40" y2="230.20" stroke="#4a4a4a" stroke-width="1.0"/>
<text x="524.40" y="241.40" font-size="8" font-weight="bold" text-anchor="middle" fill="#000">70</text>
<line x1="540.80" y1="232.40" x2="540.80" y2="230.20" stroke="#4a4a4a" stroke-width="1.0"/>
<text x="540.80" y="241.40" font-size="8" font-weight="bold" text-anchor="middle" fill="#000">80</text>
<line x1="417.80" y1="232.40" x2="417.80" y2="231.10" stroke="#4a4a4a" stroke-width="1.0"/>
<line x1="434.20" y1="232.40" x2="434.20" y2="231.10" stroke="#4a4a4a" stroke-width="1.0"/>
<line x1="450.60" y1="232.40" x2="450.60" y2="231.10" stroke="#4a4a4a" stroke-width="1.0"/>
<line x1="467.00" y1="232.40" x2="467.00" y2="231.10" stroke="#4a4a4a" stroke-width="1.0"/>
<line x1="483.40" y1="232.40" x2="483.40" y2="231.10" stroke="#4a4a4a" stroke-width="1.0"/>
<line x1="499.80" y1="232.40" x2="499.80" y2="231.10" stroke="#4a4a4a" stroke-width="1.0"/>
<line x1="516.20" y1="232.40" x2="516.20" y2="231.10" stroke="#4a4a4a" stroke-width="1.0"/>
<line x1="532.60" y1="232.40" x2="532.60" y2="231.10" stroke="#4a4a4a" stroke-width="1.0"/>
<text x="478.20" y="252.40" font-size="6.4" font-weight="bold" text-anchor="middle" fill="#000">Pore Diameter (nm)</text>
<text x="406.80" y="186.00" font-size="6.55" font-weight="bold" text-anchor="middle" transform="rotate(-90 406.80 186.00)">Pore Distribution (cm<tspan font-size="4.3" dy="-2.4">3</tspan><tspan dy="2.4"> g</tspan><tspan font-size="4.3" dy="-2.4">-1</tspan><tspan dy="2.4"> nm</tspan><tspan font-size="4.3" dy="-2.4">-1</tspan><tspan dy="2.4">)</tspan></text>
<text x="369.00" y="143.70" font-size="10" font-weight="bold" text-anchor="start" fill="#000">(f)</text>
<path d="M83.70,344.66 L83.95,344.63 L84.20,344.60 L84.45,344.57 L84.70,344.52 L84.95,344.48 L85.20,344.42 L85.45,344.35 L85.70,344.27 L85.95,344.17 L86.20,344.06 L86.45,343.92 L86.70,343.76 L86.95,343.57 L87.20,343.34 L87.45,343.08 L87.70,342.77 L87.95,342.41 L88.20,341.99 L88.45,341.52 L88.70,340.97 L88.95,340.35 L89.20,339.65 L89.45,338.87 L89.70,337.99 L89.95,337.03 L90.20,335.96 L90.45,334.81 L90.70,333.56 L90.95,332.22 L91.20,330.79 L91.45,329.28 L91.70,327.70 L91.95,326.07 L92.20,324.39 L92.45,322.68 L92.70,320.96 L92.95,319.25 L93.20,317.58 L93.45,315.96 L93.70,314.42 L93.95,312.99 L94.20,311.69 L94.45,310.55 L94.70,309.58 L94.95,308.81 L95.20,308.26 L95.45,307.94 L95.70,307.85 L95.95,308.00 L96.20,308.39 L96.45,309.01 L96.70,309.84 L96.95,310.88 L97.20,312.08 L97.45,313.45 L97.70,314.94 L97.95,316.54 L98.20,318.21 L98.45,319.94 L98.70,321.70 L98.95,323.47 L99.20,325.23 L99.45,326.96 L99.70,328.64 L99.95,330.26 L100.20,331.81 L100.45,333.28 L100.70,334.66 L100.95,335.94 L101.20,337.13 L101.45,338.22 L101.70,339.22 L101.95,340.12 L102.20,340.93 L102.45,341.65 L102.70,342.29 L102.95,342.85 L103.20,343.35 L103.45,343.78 L103.70,344.15 L103.95,344.48 L104.20,344.75 L104.45,344.99 L104.70,345.19 L104.95,345.36 L105.20,345.51 L105.45,345.63 L105.70,345.73 L105.95,345.82 L106.20,345.89 L106.45,345.95 L106.70,346.00 L106.95,346.05 L107.20,346.08 L107.45,346.12 L107.70,346.15 L107.70,346.59 L83.70,345.11 Z" stroke="none" stroke-width="0" fill="url(#g1)" stroke-linejoin="round" stroke-linecap="round"/>
<path d="M83.70,344.66 L83.95,344.63 L84.20,344.60 L84.45,344.57 L84.70,344.52 L84.95,344.48 L85.20,344.42 L85.45,344.35 L85.70,344.27 L85.95,344.17 L86.20,344.06 L86.45,343.92 L86.70,343.76 L86.95,343.57 L87.20,343.34 L87.45,343.08 L87.70,342.77 L87.95,342.41 L88.20,341.99 L88.45,341.52 L88.70,340.97 L88.95,340.35 L89.20,339.65 L89.45,338.87 L89.70,337.99 L89.95,337.03 L90.20,335.96 L90.45,334.81 L90.70,333.56 L90.95,332.22 L91.20,330.79 L91.45,329.28 L91.70,327.70 L91.95,326.07 L92.20,324.39 L92.45,322.68 L92.70,320.96 L92.95,319.25 L93.20,317.58 L93.45,315.96 L93.70,314.42 L93.95,312.99 L94.20,311.69 L94.45,310.55 L94.70,309.58 L94.95,308.81 L95.20,308.26 L95.45,307.94 L95.70,307.85 L95.95,308.00 L96.20,308.39 L96.45,309.01 L96.70,309.84 L96.95,310.88 L97.20,312.08 L97.45,313.45 L97.70,314.94 L97.95,316.54 L98.20,318.21 L98.45,319.94 L98.70,321.70 L98.95,323.47 L99.20,325.23 L99.45,326.96 L99.70,328.64 L99.95,330.26 L100.20,331.81 L100.45,333.28 L100.70,334.66 L100.95,335.94 L101.20,337.13 L101.45,338.22 L101.70,339.22 L101.95,340.12 L102.20,340.93 L102.45,341.65 L102.70,342.29 L102.95,342.85 L103.20,343.35 L103.45,343.78 L103.70,344.15 L103.95,344.48 L104.20,344.75 L104.45,344.99 L104.70,345.19 L104.95,345.36 L105.20,345.51 L105.45,345.63 L105.70,345.73 L105.95,345.82 L106.20,345.89 L106.45,345.95 L106.70,346.00 L106.95,346.05 L107.20,346.08 L107.45,346.12 L107.70,346.15" stroke="#a8a070" stroke-width="0.8" fill="none" stroke-linejoin="round" stroke-linecap="round"/>
<path d="M121.45,345.90 L121.70,345.86 L121.95,345.82 L122.20,345.78 L122.45,345.72 L122.70,345.66 L122.95,345.59 L123.20,345.51 L123.45,345.41 L123.70,345.30 L123.95,345.17 L124.20,345.02 L124.45,344.85 L124.70,344.64 L124.95,344.41 L125.20,344.13 L125.45,343.81 L125.70,343.45 L125.95,343.03 L126.20,342.55 L126.45,342.00 L126.70,341.38 L126.95,340.68 L127.20,339.89 L127.45,339.01 L127.70,338.03 L127.95,336.94 L128.20,335.75 L128.45,334.44 L128.70,333.01 L128.95,331.47 L129.20,329.81 L129.45,328.02 L129.70,326.13 L129.95,324.12 L130.20,322.02 L130.45,319.82 L130.70,317.54 L130.95,315.20 L131.20,312.81 L131.45,310.38 L131.70,307.95 L131.95,305.53 L132.20,303.14 L132.45,300.82 L132.70,298.59 L132.95,296.47 L133.20,294.50 L133.45,292.70 L133.70,291.10 L133.95,289.72 L134.20,288.59 L134.45,287.72 L134.70,287.13 L134.95,286.83 L135.20,286.84 L135.45,287.14 L135.70,287.73 L135.95,288.61 L136.20,289.75 L136.45,291.14 L136.70,292.77 L136.95,294.59 L137.20,296.59 L137.45,298.73 L137.70,301.00 L137.95,303.36 L138.20,305.79 L138.45,308.26 L138.70,310.74 L138.95,313.22 L139.20,315.66 L139.45,318.06 L139.70,320.40 L139.95,322.65 L140.20,324.82 L140.45,326.88 L140.70,328.83 L140.95,330.67 L141.20,332.39 L141.45,333.99 L141.70,335.47 L141.95,336.82 L142.20,338.07 L142.45,339.19 L142.70,340.22 L142.95,341.14 L143.20,341.96 L143.45,342.69 L143.70,343.34 L143.95,343.92 L144.20,344.43 L144.45,344.87 L144.70,345.26 L144.95,345.59 L145.20,345.88 L145.45,346.14 L145.70,346.36 L145.95,346.54 L146.20,346.70 L146.45,346.84 L146.70,346.96 L146.95,347.06 L147.20,347.15 L147.45,347.23 L147.70,347.29 L147.95,347.35 L148.20,347.40 L148.45,347.44 L148.70,347.48 L148.70,348.19 L121.45,346.61 Z" stroke="none" stroke-width="0" fill="url(#g2)" stroke-linejoin="round" stroke-linecap="round"/>
<path d="M121.45,345.90 L121.70,345.86 L121.95,345.82 L122.20,345.78 L122.45,345.72 L122.70,345.66 L122.95,345.59 L123.20,345.51 L123.45,345.41 L123.70,345.30 L123.95,345.17 L124.20,345.02 L124.45,344.85 L124.70,344.64 L124.95,344.41 L125.20,344.13 L125.45,343.81 L125.70,343.45 L125.95,343.03 L126.20,342.55 L126.45,342.00 L126.70,341.38 L126.95,340.68 L127.20,339.89 L127.45,339.01 L127.70,338.03 L127.95,336.94 L128.20,335.75 L128.45,334.44 L128.70,333.01 L128.95,331.47 L129.20,329.81 L129.45,328.02 L129.70,326.13 L129.95,324.12 L130.20,322.02 L130.45,319.82 L130.70,317.54 L130.95,315.20 L131.20,312.81 L131.45,310.38 L131.70,307.95 L131.95,305.53 L132.20,303.14 L132.45,300.82 L132.70,298.59 L132.95,296.47 L133.20,294.50 L133.45,292.70 L133.70,291.10 L133.95,289.72 L134.20,288.59 L134.45,287.72 L134.70,287.13 L134.95,286.83 L135.20,286.84 L135.45,287.14 L135.70,287.73 L135.95,288.61 L136.20,289.75 L136.45,291.14 L136.70,292.77 L136.95,294.59 L137.20,296.59 L137.45,298.73 L137.70,301.00 L137.95,303.36 L138.20,305.79 L138.45,308.26 L138.70,310.74 L138.95,313.22 L139.20,315.66 L139.45,318.06 L139.70,320.40 L139.95,322.65 L140.20,324.82 L140.45,326.88 L140.70,328.83 L140.95,330.67 L141.20,332.39 L141.45,333.99 L141.70,335.47 L141.95,336.82 L142.20,338.07 L142.45,339.19 L142.70,340.22 L142.95,341.14 L143.20,341.96 L143.45,342.69 L143.70,343.34 L143.95,343.92 L144.20,344.43 L144.45,344.87 L144.70,345.26 L144.95,345.59 L145.20,345.88 L145.45,346.14 L145.70,346.36 L145.95,346.54 L146.20,346.70 L146.45,346.84 L146.70,346.96 L146.95,347.06 L147.20,347.15 L147.45,347.23 L147.70,347.29 L147.95,347.35 L148.20,347.40 L148.45,347.44 L148.70,347.48" stroke="#30b050" stroke-width="0.8" fill="none" stroke-linejoin="round" stroke-linecap="round"/>
<path d="M64.70,345.03 L64.95,345.02 L65.20,345.01 L65.45,345.00 L65.70,344.98 L65.95,344.97 L66.20,344.96 L66.45,344.94 L66.70,344.93 L66.95,344.91 L67.20,344.89 L67.45,344.87 L67.70,344.85 L67.95,344.82 L68.20,344.79 L68.45,344.77 L68.70,344.73 L68.95,344.70 L69.20,344.66 L69.45,344.63 L69.70,344.58 L69.95,344.54 L70.20,344.49 L70.45,344.44 L70.70,344.39 L70.95,344.33 L71.20,344.27 L71.45,344.21 L71.70,344.14 L71.95,344.07 L72.20,344.00 L72.45,343.92 L72.70,343.84 L72.95,343.75 L73.20,343.66 L73.45,343.57 L73.70,343.47 L73.95,343.37 L74.20,343.26 L74.45,343.15 L74.70,343.04 L74.95,342.92 L75.20,342.80 L75.45,342.68 L75.70,342.55 L75.95,342.42 L76.20,342.29 L76.45,342.16 L76.70,342.02 L76.95,341.88 L77.20,341.74 L77.45,341.59 L77.70,341.45 L77.95,341.31 L78.20,341.16 L78.45,341.02 L78.70,340.87 L78.95,340.73 L79.20,340.58 L79.45,340.44 L79.70,340.31 L79.95,340.17 L80.20,340.04 L80.45,339.91 L80.70,339.78 L80.95,339.66 L81.20,339.54 L81.45,339.43 L81.70,339.32 L81.95,339.22 L82.20,339.13 L82.45,339.04 L82.70,338.96 L82.95,338.89 L83.20,338.83 L83.45,338.77 L83.70,338.72 L83.95,338.68 L84.20,338.65 L84.45,338.63 L84.70,338.62 L84.95,338.61 L85.20,338.62 L85.45,338.63 L85.70,338.65 L85.95,338.69 L86.20,338.73 L86.45,338.78 L86.70,338.83 L86.95,338.90 L87.20,338.98 L87.45,339.06 L87.70,339.15 L87.95,339.25 L88.20,339.35 L88.45,339.47 L88.70,339.59 L88.95,339.71 L89.20,339.84 L89.45,339.98 L89.70,340.12 L89.95,340.27 L90.20,340.42 L90.45,340.57 L90.70,340.73 L90.95,340.89 L91.20,341.05 L91.45,341.22 L91.70,341.38 L91.95,341.55 L92.20,341.72 L92.45,341.89 L92.70,342.06 L92.95,342.23 L93.20,342.40 L93.45,342.56 L93.70,342.73 L93.95,342.89 L94.20,343.06 L94.45,343.21 L94.70,343.37 L94.95,343.53 L95.20,343.68 L95.45,343.82 L95.70,343.97 L95.95,344.11 L96.20,344.25 L96.45,344.38 L96.70,344.51 L96.95,344.63 L97.20,344.75 L97.45,344.86 L97.70,344.97 L97.95,345.08 L98.20,345.18 L98.45,345.28 L98.70,345.37 L98.95,345.46 L99.20,345.54 L99.45,345.62 L99.70,345.69 L99.95,345.76 L100.20,345.83 L100.45,345.89 L100.70,345.95 L100.95,346.00 L101.20,346.05 L101.45,346.10 L101.70,346.15 L101.95,346.19 L102.20,346.22 L102.45,346.26 L102.70,346.29 L102.95,346.32 L103.20,346.35 L103.45,346.37 L103.70,346.40 L103.95,346.42 L104.20,346.44 L104.45,346.45 L104.70,346.47 L104.95,346.48 L105.20,346.50 L105.45,346.51 L105.70,346.52 L105.70,346.58 L64.70,345.10 Z" stroke="none" stroke-width="0" fill="#ff88dd" stroke-linejoin="round" stroke-linecap="round" fill-opacity="0.5"/>
<path d="M64.70,345.03 L64.95,345.02 L65.20,345.01 L65.45,345.00 L65.70,344.98 L65.95,344.97 L66.20,344.96 L66.45,344.94 L66.70,344.93 L66.95,344.91 L67.20,344.89 L67.45,344.87 L67.70,344.85 L67.95,344.82 L68.20,344.79 L68.45,344.77 L68.70,344.73 L68.95,344.70 L69.20,344.66 L69.45,344.63 L69.70,344.58 L69.95,344.54 L70.20,344.49 L70.45,344.44 L70.70,344.39 L70.95,344.33 L71.20,344.27 L71.45,344.21 L71.70,344.14 L71.95,344.07 L72.20,344.00 L72.45,343.92 L72.70,343.84 L72.95,343.75 L73.20,343.66 L73.45,343.57 L73.70,343.47 L73.95,343.37 L74.20,343.26 L74.45,343.15 L74.70,343.04 L74.95,342.92 L75.20,342.80 L75.45,342.68 L75.70,342.55 L75.95,342.42 L76.20,342.29 L76.45,342.16 L76.70,342.02 L76.95,341.88 L77.20,341.74 L77.45,341.59 L77.70,341.45 L77.95,341.31 L78.20,341.16 L78.45,341.02 L78.70,340.87 L78.95,340.73 L79.20,340.58 L79.45,340.44 L79.70,340.31 L79.95,340.17 L80.20,340.04 L80.45,339.91 L80.70,339.78 L80.95,339.66 L81.20,339.54 L81.45,339.43 L81.70,339.32 L81.95,339.22 L82.20,339.13 L82.45,339.04 L82.70,338.96 L82.95,338.89 L83.20,338.83 L83.45,338.77 L83.70,338.72 L83.95,338.68 L84.20,338.65 L84.45,338.63 L84.70,338.62 L84.95,338.61 L85.20,338.62 L85.45,338.63 L85.70,338.65 L85.95,338.69 L86.20,338.73 L86.45,338.78 L86.70,338.83 L86.95,338.90 L87.20,338.98 L87.45,339.06 L87.70,339.15 L87.95,339.25 L88.20,339.35 L88.45,339.47 L88.70,339.59 L88.95,339.71 L89.20,339.84 L89.45,339.98 L89.70,340.12 L89.95,340.27 L90.20,340.42 L90.45,340.57 L90.70,340.73 L90.95,340.89 L91.20,341.05 L91.45,341.22 L91.70,341.38 L91.95,341.55 L92.20,341.72 L92.45,341.89 L92.70,342.06 L92.95,342.23 L93.20,342.40 L93.45,342.56 L93.70,342.73 L93.95,342.89 L94.20,343.06 L94.45,343.21 L94.70,343.37 L94.95,343.53 L95.20,343.68 L95.45,343.82 L95.70,343.97 L95.95,344.11 L96.20,344.25 L96.45,344.38 L96.70,344.51 L96.95,344.63 L97.20,344.75 L97.45,344.86 L97.70,344.97 L97.95,345.08 L98.20,345.18 L98.45,345.28 L98.70,345.37 L98.95,345.46 L99.20,345.54 L99.45,345.62 L99.70,345.69 L99.95,345.76 L100.20,345.83 L100.45,345.89 L100.70,345.95 L100.95,346.00 L101.20,346.05 L101.45,346.10 L101.70,346.15 L101.95,346.19 L102.20,346.22 L102.45,346.26 L102.70,346.29 L102.95,346.32 L103.20,346.35 L103.45,346.37 L103.70,346.40 L103.95,346.42 L104.20,346.44 L104.45,346.45 L104.70,346.47 L104.95,346.48 L105.20,346.50 L105.45,346.51 L105.70,346.52" stroke="#ff88dd" stroke-width="0.9" fill="none" stroke-linejoin="round" stroke-linecap="round"/>
<path d="M108.95,346.53 L109.20,346.52 L109.45,346.50 L109.70,346.49 L109.95,346.47 L110.20,346.45 L110.45,346.43 L110.70,346.41 L110.95,346.38 L111.20,346.35 L111.45,346.32 L111.70,346.28 L111.95,346.24 L112.20,346.19 L112.45,346.14 L112.70,346.09 L112.95,346.03 L113.20,345.96 L113.45,345.89 L113.70,345.81 L113.95,345.72 L114.20,345.63 L114.45,345.53 L114.70,345.42 L114.95,345.30 L115.20,345.18 L115.45,345.05 L115.70,344.91 L115.95,344.76 L116.20,344.61 L116.45,344.45 L116.70,344.28 L116.95,344.10 L117.20,343.91 L117.45,343.72 L117.70,343.52 L117.95,343.32 L118.20,343.11 L118.45,342.89 L118.70,342.68 L118.95,342.46 L119.20,342.23 L119.45,342.01 L119.70,341.79 L119.95,341.57 L120.20,341.35 L120.45,341.13 L120.70,340.92 L120.95,340.72 L121.20,340.52 L121.45,340.33 L121.70,340.16 L121.95,339.99 L122.20,339.83 L122.45,339.69 L122.70,339.56 L122.95,339.45 L123.20,339.35 L123.45,339.27 L123.70,339.21 L123.95,339.16 L124.20,339.14 L124.45,339.13 L124.70,339.14 L124.95,339.16 L125.20,339.21 L125.45,339.27 L125.70,339.35 L125.95,339.45 L126.20,339.57 L126.45,339.70 L126.70,339.84 L126.95,340.00 L127.20,340.17 L127.45,340.36 L127.70,340.55 L127.95,340.76 L128.20,340.97 L128.45,341.19 L128.70,341.42 L128.95,341.65 L129.20,341.89 L129.45,342.13 L129.70,342.37 L129.95,342.61 L130.20,342.85 L130.45,343.09 L130.70,343.33 L130.95,343.56 L131.20,343.79 L131.45,344.01 L131.70,344.23 L131.95,344.45 L132.20,344.65 L132.45,344.86 L132.70,345.05 L132.95,345.24 L133.20,345.42 L133.45,345.59 L133.70,345.75 L133.95,345.91 L134.20,346.06 L134.45,346.20 L134.70,346.34 L134.95,346.46 L135.20,346.59 L135.45,346.70 L135.70,346.81 L135.95,346.91 L136.20,347.00 L136.45,347.09 L136.70,347.17 L136.95,347.25 L137.20,347.32 L137.45,347.39 L137.70,347.46 L137.95,347.51 L138.20,347.57 L138.45,347.62 L138.70,347.67 L138.95,347.71 L139.20,347.75 L139.45,347.79 L139.70,347.83 L139.95,347.86 L139.95,347.93 L108.95,346.60 Z" stroke="none" stroke-width="0" fill="#ff9a40" stroke-linejoin="round" stroke-linecap="round" fill-opacity="0.5"/>
<path d="M108.95,346.53 L109.20,346.52 L109.45,346.50 L109.70,346.49 L109.95,346.47 L110.20,346.45 L110.45,346.43 L110.70,346.41 L110.95,346.38 L111.20,346.35 L111.45,346.32 L111.70,346.28 L111.95,346.24 L112.20,346.19 L112.45,346.14 L112.70,346.09 L112.95,346.03 L113.20,345.96 L113.45,345.89 L113.70,345.81 L113.95,345.72 L114.20,345.63 L114.45,345.53 L114.70,345.42 L114.95,345.30 L115.20,345.18 L115.45,345.05 L115.70,344.91 L115.95,344.76 L116.20,344.61 L116.45,344.45 L116.70,344.28 L116.95,344.10 L117.20,343.91 L117.45,343.72 L117.70,343.52 L117.95,343.32 L118.20,343.11 L118.45,342.89 L118.70,342.68 L118.95,342.46 L119.20,342.23 L119.45,342.01 L119.70,341.79 L119.95,341.57 L120.20,341.35 L120.45,341.13 L120.70,340.92 L120.95,340.72 L121.20,340.52 L121.45,340.33 L121.70,340.16 L121.95,339.99 L122.20,339.83 L122.45,339.69 L122.70,339.56 L122.95,339.45 L123.20,339.35 L123.45,339.27 L123.70,339.21 L123.95,339.16 L124.20,339.14 L124.45,339.13 L124.70,339.14 L124.95,339.16 L125.20,339.21 L125.45,339.27 L125.70,339.35 L125.95,339.45 L126.20,339.57 L126.45,339.70 L126.70,339.84 L126.95,340.00 L127.20,340.17 L127.45,340.36 L127.70,340.55 L127.95,340.76 L128.20,340.97 L128.45,341.19 L128.70,341.42 L128.95,341.65 L129.20,341.89 L129.45,342.13 L129.70,342.37 L129.95,342.61 L130.20,342.85 L130.45,343.09 L130.70,343.33 L130.95,343.56 L131.20,343.79 L131.45,344.01 L131.70,344.23 L131.95,344.45 L132.20,344.65 L132.45,344.86 L132.70,345.05 L132.95,345.24 L133.20,345.42 L133.45,345.59 L133.70,345.75 L133.95,345.91 L134.20,346.06 L134.45,346.20 L134.70,346.34 L134.95,346.46 L135.20,346.59 L135.45,346.70 L135.70,346.81 L135.95,346.91 L136.20,347.00 L136.45,347.09 L136.70,347.17 L136.95,347.25 L137.20,347.32 L137.45,347.39 L137.70,347.46 L137.95,347.51 L138.20,347.57 L138.45,347.62 L138.70,347.67 L138.95,347.71 L139.20,347.75 L139.45,347.79 L139.70,347.83 L139.95,347.86" stroke="#ff9a40" stroke-width="0.9" fill="none" stroke-linejoin="round" stroke-linecap="round"/>
<path d="M64.70,345.10 L64.95,345.10 L65.20,345.10 L65.45,345.10 L65.70,345.10 L65.95,345.10 L66.20,345.10 L66.45,345.10 L66.70,345.10 L66.95,345.10 L67.20,345.10 L67.45,345.10 L67.70,345.10 L67.95,345.10 L68.20,345.10 L68.45,345.10 L68.70,345.10 L68.95,345.10 L69.20,345.10 L69.45,345.10 L69.70,345.10 L69.95,345.10 L70.20,345.10 L70.45,345.10 L70.70,345.10 L70.95,345.10 L71.20,345.10 L71.45,345.10 L71.70,345.10 L71.95,345.10 L72.20,345.10 L72.45,345.10 L72.70,345.10 L72.95,345.10 L73.20,345.10 L73.45,345.10 L73.70,345.10 L73.95,345.10 L74.20,345.10 L74.45,345.10 L74.70,345.10 L74.95,345.10 L75.20,345.10 L75.45,345.10 L75.70,345.10 L75.95,345.10 L76.20,345.10 L76.45,345.10 L76.70,345.10 L76.95,345.10 L77.20,345.10 L77.45,345.10 L77.70,345.10 L77.95,345.10 L78.20,345.10 L78.45,345.10 L78.70,345.10 L78.95,345.10 L79.20,345.10 L79.45,345.10 L79.70,345.10 L79.95,345.10 L80.20,345.10 L80.45,345.10 L80.70,345.10 L80.95,345.10 L81.20,345.10 L81.45,345.10 L81.70,345.10 L81.95,345.10 L82.20,345.10 L82.45,345.10 L82.70,345.10 L82.95,345.10 L83.20,345.10 L83.45,345.10 L83.70,345.11 L83.95,345.11 L84.20,345.11 L84.45,345.11 L84.70,345.11 L84.95,345.11 L85.20,345.11 L85.45,345.12 L85.70,345.12 L85.95,345.12 L86.20,345.13 L86.45,345.13 L86.70,345.13 L86.95,345.14 L87.20,345.14 L87.45,345.15 L87.70,345.16 L87.95,345.16 L88.20,345.17 L88.45,345.18 L88.70,345.19 L88.95,345.20 L89.20,345.21 L89.45,345.22 L89.70,345.24 L89.95,345.25 L90.20,345.27 L90.45,345.28 L90.70,345.30 L90.95,345.32 L91.20,345.34 L91.45,345.36 L91.70,345.38 L91.95,345.40 L92.20,345.43 L92.45,345.45 L92.70,345.48 L92.95,345.51 L93.20,345.53 L93.45,345.56 L93.70,345.59 L93.95,345.62 L94.20,345.65 L94.45,345.69 L94.70,345.72 L94.95,345.75 L95.20,345.78 L95.45,345.82 L95.70,345.85 L95.95,345.88 L96.20,345.92 L96.45,345.95 L96.70,345.98 L96.95,346.01 L97.20,346.05 L97.45,346.08 L97.70,346.11 L97.95,346.14 L98.20,346.17 L98.45,346.19 L98.70,346.22 L98.95,346.25 L99.20,346.27 L99.45,346.30 L99.70,346.32 L99.95,346.34 L100.20,346.36 L100.45,346.38 L100.70,346.40 L100.95,346.42 L101.20,346.43 L101.45,346.45 L101.70,346.46 L101.95,346.48 L102.20,346.49 L102.45,346.50 L102.70,346.51 L102.95,346.52 L103.20,346.53 L103.45,346.54 L103.70,346.54 L103.95,346.55 L104.20,346.56 L104.45,346.56 L104.70,346.57 L104.95,346.57 L105.20,346.57 L105.45,346.58 L105.70,346.58 L105.95,346.58 L106.20,346.59 L106.45,346.59 L106.70,346.59 L106.95,346.59 L107.20,346.59 L107.45,346.59 L107.70,346.59 L107.95,346.60 L108.20,346.60 L108.45,346.60 L108.70,346.60 L108.95,346.60 L109.20,346.60 L109.45,346.60 L109.70,346.60 L109.95,346.60 L110.20,346.60 L110.45,346.60 L110.70,346.60 L110.95,346.60 L111.20,346.60 L111.45,346.60 L111.70,346.60 L111.95,346.60 L112.20,346.60 L112.45,346.60 L112.70,346.60 L112.95,346.60 L113.20,346.60 L113.45,346.60 L113.70,346.60 L113.95,346.60 L114.20,346.60 L114.45,346.60 L114.70,346.60 L114.95,346.60 L115.20,346.60 L115.45,346.60 L115.70,346.60 L115.95,346.60 L116.20,346.60 L116.45,346.60 L116.70,346.60 L116.95,346.60 L117.20,346.60 L117.45,346.60 L117.70,346.60 L117.95,346.60 L118.20,346.60 L118.45,346.60 L118.70,346.60 L118.95,346.60 L119.20,346.60 L119.45,346.60 L119.70,346.60 L119.95,346.60 L120.20,346.60 L120.45,346.60 L120.70,346.60 L120.95,346.60 L121.20,346.60 L121.45,346.61 L121.70,346.61 L121.95,346.61 L122.20,346.61 L122.45,346.61 L122.70,346.61 L122.95,346.61 L123.20,346.61 L123.45,346.62 L123.70,346.62 L123.95,346.62 L124.20,346.62 L124.45,346.63 L124.70,346.63 L124.95,346.63 L125.20,346.64 L125.45,346.64 L125.70,346.65 L125.95,346.65 L126.20,346.66 L126.45,346.67 L126.70,346.67 L126.95,346.68 L127.20,346.69 L127.45,346.70 L127.70,346.71 L127.95,346.72 L128.20,346.73 L128.45,346.75 L128.70,346.76 L128.95,346.77 L129.20,346.79 L129.45,346.81 L129.70,346.82 L129.95,346.84 L130.20,346.86 L130.45,346.88 L130.70,346.90 L130.95,346.93 L131.20,346.95 L131.45,346.97 L131.70,347.00 L131.95,347.02 L132.20,347.05 L132.45,347.08 L132.70,347.10 L132.95,347.13 L133.20,347.16 L133.45,347.19 L133.70,347.22 L133.95,347.25 L134.20,347.29 L134.45,347.32 L134.70,347.35 L134.95,347.38 L135.20,347.41 L135.45,347.44 L135.70,347.48 L135.95,347.51 L136.20,347.54 L136.45,347.57 L136.70,347.60 L136.95,347.63 L137.20,347.66 L137.45,347.69 L137.70,347.72 L137.95,347.75 L138.20,347.77 L138.45,347.80 L138.70,347.82 L138.95,347.85 L139.20,347.87 L139.45,347.89 L139.70,347.91 L139.95,347.93 L140.20,347.95 L140.45,347.97 L140.70,347.99 L140.95,348.01 L141.20,348.02 L141.45,348.04 L141.70,348.05 L141.95,348.06 L142.20,348.08 L142.45,348.09 L142.70,348.10 L142.95,348.11 L143.20,348.12 L143.45,348.12 L143.70,348.13 L143.95,348.14 L144.20,348.14 L144.45,348.15 L144.70,348.16 L144.95,348.16 L145.20,348.17 L145.45,348.17 L145.70,348.17 L145.95,348.18 L146.20,348.18 L146.45,348.18 L146.70,348.18 L146.95,348.19 L147.20,348.19 L147.45,348.19 L147.70,348.19 L147.95,348.19 L148.20,348.19 L148.45,348.19 L148.70,348.19 L148.95,348.20 L149.20,348.20 L149.45,348.20 L149.70,348.20 L149.95,348.20 L150.20,348.20 L150.45,348.20 L150.70,348.20 L150.95,348.20 L151.20,348.20 L151.45,348.20 L151.70,348.20 L151.95,348.20 L152.20,348.20 L152.45,348.20 L152.70,348.20 L152.95,348.20 L153.20,348.20 L153.45,348.20 L153.70,348.20 L153.95,348.20 L154.20,348.20 L154.45,348.20 L154.70,348.20 L154.95,348.20 L155.20,348.20 L155.45,348.20 L155.70,348.20 L155.95,348.20 L156.20,348.20 L156.45,348.20 L156.70,348.20 L156.95,348.20 L157.20,348.20 L157.45,348.20 L157.70,348.20 L157.95,348.20 L158.20,348.20 L158.45,348.20 L158.70,348.20 L158.95,348.20 L159.20,348.20 L159.45,348.20 L159.70,348.20 L159.95,348.20 L160.20,348.20 L160.45,348.20 L160.70,348.20 L160.95,348.20 L161.20,348.20 L161.45,348.20 L161.70,348.20 L161.95,348.20 L162.20,348.20 L162.45,348.20 L162.70,348.20 L162.95,348.20 L163.20,348.20 L163.45,348.20 L163.70,348.20 L163.95,348.20" stroke="#ff88dd" stroke-width="1.0" fill="none" stroke-linejoin="round" stroke-linecap="round"/>
<path d="M48.00,344.56 L48.80,346.48 L49.60,344.63 L50.40,344.41 L51.20,342.87 L52.00,344.67 L52.80,347.98 L53.60,346.26 L54.40,347.79 L55.20,345.82 L56.00,346.19 L56.80,345.66 L57.60,341.03 L58.40,347.34 L59.20,346.47 L60.00,346.45 L60.80,340.97 L61.60,340.84 L62.40,342.98 L63.20,344.03 L64.00,345.96 L64.80,344.83 L65.60,345.93 L66.40,343.56 L67.20,345.40 L68.00,345.49 L68.80,343.28 L69.60,347.91 L70.40,345.43 L71.20,346.53 L72.00,342.67 L72.80,342.17 L73.60,342.65 L74.40,342.79 L75.20,343.88 L76.00,342.69 L76.80,340.85 L77.60,339.36 L78.40,339.75 L79.20,342.75 L80.00,338.23 L80.80,339.90 L81.60,339.86 L82.40,335.68 L83.20,338.47 L84.00,340.76 L84.80,333.93 L85.60,337.13 L86.40,337.32 L87.20,335.48 L88.00,337.37 L88.80,334.98 L89.60,330.19 L90.40,331.90 L91.20,327.77 L92.00,323.73 L92.80,319.72 L93.60,312.76 L94.40,308.42 L95.20,303.47 L96.00,307.45 L96.80,307.48 L97.60,312.16 L98.40,316.03 L99.20,322.46 L100.00,328.84 L100.80,337.21 L101.60,334.32 L102.40,338.23 L103.20,343.52 L104.00,347.15 L104.80,346.18 L105.60,341.67 L106.40,340.68 L107.20,346.58 L108.00,344.46 L108.80,343.73 L109.60,347.92 L110.40,348.13 L111.20,346.17 L112.00,346.24 L112.80,346.45 L113.60,348.55 L114.40,346.30 L115.20,345.73 L116.00,345.32 L116.80,340.54 L117.60,345.62 L118.40,344.27 L119.20,342.68 L120.00,336.91 L120.80,338.84 L121.60,341.09 L122.40,335.13 L123.20,337.80 L124.00,339.64 L124.80,334.37 L125.60,339.42 L126.40,336.15 L127.20,333.01 L128.00,331.38 L128.80,328.40 L129.60,322.54 L130.40,318.67 L131.20,308.27 L132.00,301.63 L132.80,297.77 L133.60,290.20 L134.40,284.93 L135.20,281.60 L136.00,291.12 L136.80,292.14 L137.60,297.01 L138.40,307.28 L139.20,315.21 L140.00,322.39 L140.80,332.32 L141.60,332.78 L142.40,341.45 L143.20,339.38 L144.00,342.42 L144.80,346.63 L145.60,348.50 L146.40,348.51 L147.20,347.82 L148.00,347.62 L148.80,347.78 L149.60,348.72 L150.40,347.28 L151.20,348.25 L152.00,348.88 L152.80,347.78 L153.60,349.34 L154.40,348.97 L155.20,351.88 L156.00,348.54 L156.80,347.05 L157.60,347.18 L158.40,347.92 L159.20,349.81 L160.00,347.30 L160.80,348.76 L161.60,351.67 L162.40,342.88 L163.20,345.77 L164.00,348.52 L164.80,349.12 L165.60,348.83 L166.40,347.62 L167.20,349.58 L168.00,348.91 L168.80,347.46 L169.60,352.77 L170.40,349.04 L171.20,347.40 L172.00,348.22 L172.80,347.99 L173.60,348.29" stroke="#222" stroke-width="0.75" fill="none" stroke-linejoin="round" stroke-linecap="round"/>
<path d="M64.70,344.93 L64.95,344.92 L65.20,344.91 L65.45,344.90 L65.70,344.89 L65.95,344.87 L66.20,344.86 L66.45,344.84 L66.70,344.82 L66.95,344.80 L67.20,344.78 L67.45,344.76 L67.70,344.73 L67.95,344.71 L68.20,344.68 L68.45,344.65 L68.70,344.62 L68.95,344.58 L69.20,344.54 L69.45,344.50 L69.70,344.46 L69.95,344.41 L70.20,344.36 L70.45,344.31 L70.70,344.26 L70.95,344.20 L71.20,344.13 L71.45,344.07 L71.70,344.00 L71.95,343.92 L72.20,343.85 L72.45,343.77 L72.70,343.68 L72.95,343.59 L73.20,343.50 L73.45,343.40 L73.70,343.30 L73.95,343.20 L74.20,343.09 L74.45,342.98 L74.70,342.86 L74.95,342.74 L75.20,342.61 L75.45,342.49 L75.70,342.36 L75.95,342.22 L76.20,342.08 L76.45,341.95 L76.70,341.80 L76.95,341.66 L77.20,341.51 L77.45,341.36 L77.70,341.22 L77.95,341.06 L78.20,340.91 L78.45,340.76 L78.70,340.61 L78.95,340.46 L79.20,340.31 L79.45,340.16 L79.70,340.02 L79.95,339.87 L80.20,339.73 L80.45,339.59 L80.70,339.46 L80.95,339.33 L81.20,339.20 L81.45,339.08 L81.70,338.96 L81.95,338.85 L82.20,338.74 L82.45,338.64 L82.70,338.55 L82.95,338.46 L83.20,338.37 L83.45,338.30 L83.70,338.22 L83.95,338.16 L84.20,338.09 L84.45,338.03 L84.70,337.98 L84.95,337.92 L85.20,337.87 L85.45,337.81 L85.70,337.75 L85.95,337.68 L86.20,337.60 L86.45,337.51 L86.70,337.40 L86.95,337.27 L87.20,337.12 L87.45,336.93 L87.70,336.70 L87.95,336.43 L88.20,336.11 L88.45,335.74 L88.70,335.30 L88.95,334.80 L89.20,334.22 L89.45,333.56 L89.70,332.81 L89.95,331.98 L90.20,331.05 L90.45,330.03 L90.70,328.92 L90.95,327.72 L91.20,326.43 L91.45,325.07 L91.70,323.64 L91.95,322.14 L92.20,320.61 L92.45,319.04 L92.70,317.47 L92.95,315.90 L93.20,314.36 L93.45,312.88 L93.70,311.48 L93.95,310.18 L94.20,309.01 L94.45,308.00 L94.70,307.15 L94.95,306.51 L95.20,306.07 L95.45,305.86 L95.70,305.88 L95.95,306.14 L96.20,306.63 L96.45,307.35 L96.70,308.28 L96.95,309.40 L97.20,310.69 L97.45,312.14 L97.70,313.71 L97.95,315.38 L98.20,317.13 L98.45,318.93 L98.70,320.75 L98.95,322.58 L99.20,324.40 L99.45,326.18 L99.70,327.91 L99.95,329.58 L100.20,331.17 L100.45,332.68 L100.70,334.10 L100.95,335.42 L101.20,336.64 L101.45,337.76 L101.70,338.78 L101.95,339.71 L102.20,340.54 L102.45,341.28 L102.70,341.94 L102.95,342.53 L103.20,343.04 L103.45,343.48 L103.70,343.87 L103.95,344.21 L104.20,344.49 L104.45,344.74 L104.70,344.95 L104.95,345.12 L105.20,345.27 L105.45,345.40 L105.70,345.51 L105.95,345.60 L106.20,345.67 L106.45,345.73 L106.70,345.78 L106.95,345.83 L107.20,345.86 L107.45,345.89 L107.70,345.91 L107.95,345.93 L108.20,345.95 L108.45,345.96 L108.70,345.96 L108.95,345.97 L109.20,345.97 L109.45,345.97 L109.70,345.96 L109.95,345.95 L110.20,345.94 L110.45,345.93 L110.70,345.91 L110.95,345.89 L111.20,345.86 L111.45,345.83 L111.70,345.80 L111.95,345.76 L112.20,345.71 L112.45,345.66 L112.70,345.61 L112.95,345.55 L113.20,345.48 L113.45,345.41 L113.70,345.33 L113.95,345.24 L114.20,345.15 L114.45,345.04 L114.70,344.93 L114.95,344.82 L115.20,344.69 L115.45,344.56 L115.70,344.41 L115.95,344.26 L116.20,344.10 L116.45,343.93 L116.70,343.75 L116.95,343.57 L117.20,343.38 L117.45,343.18 L117.70,342.97 L117.95,342.76 L118.20,342.54 L118.45,342.31 L118.70,342.09 L118.95,341.85 L119.20,341.62 L119.45,341.38 L119.70,341.14 L119.95,340.91 L120.20,340.67 L120.45,340.43 L120.70,340.20 L120.95,339.97 L121.20,339.75 L121.45,339.53 L121.70,339.32 L121.95,339.11 L122.20,338.91 L122.45,338.72 L122.70,338.53 L122.95,338.34 L123.20,338.16 L123.45,337.99 L123.70,337.81 L123.95,337.64 L124.20,337.46 L124.45,337.27 L124.70,337.07 L124.95,336.86 L125.20,336.63 L125.45,336.37 L125.70,336.08 L125.95,335.75 L126.20,335.38 L126.45,334.96 L126.70,334.48 L126.95,333.93 L127.20,333.31 L127.45,332.60 L127.70,331.81 L127.95,330.92 L128.20,329.93 L128.45,328.83 L128.70,327.61 L128.95,326.29 L129.20,324.85 L129.45,323.29 L129.70,321.62 L129.95,319.84 L130.20,317.95 L130.45,315.97 L130.70,313.91 L130.95,311.78 L131.20,309.59 L131.45,307.37 L131.70,305.13 L131.95,302.90 L132.20,300.70 L132.45,298.55 L132.70,296.49 L132.95,294.53 L133.20,292.71 L133.45,291.05 L133.70,289.58 L133.95,288.33 L134.20,287.32 L134.45,286.56 L134.70,286.08 L134.95,285.88 L135.20,285.97 L135.45,286.35 L135.70,287.02 L135.95,287.97 L136.20,289.17 L136.45,290.63 L136.70,292.30 L136.95,294.17 L137.20,296.21 L137.45,298.40 L137.70,300.70 L137.95,303.10 L138.20,305.55 L138.45,308.05 L138.70,310.55 L138.95,313.05 L139.20,315.51 L139.45,317.93 L139.70,320.28 L139.95,322.55 L140.20,324.72 L140.45,326.79 L140.70,328.75 L140.95,330.60 L141.20,332.32 L141.45,333.93 L141.70,335.41 L141.95,336.77 L142.20,338.02 L142.45,339.15 L142.70,340.17 L142.95,341.10 L143.20,341.92 L143.45,342.66 L143.70,343.31 L143.95,343.89 L144.20,344.39 L144.45,344.84 L144.70,345.23 L144.95,345.56 L145.20,345.86 L145.45,346.11 L145.70,346.33 L145.95,346.52 L146.20,346.68 L146.45,346.82 L146.70,346.94 L146.95,347.04 L147.20,347.13 L147.45,347.20 L147.70,347.27 L147.95,347.33 L148.20,347.38 L148.45,347.42 L148.70,347.46 L148.95,347.49 L149.20,347.52 L149.45,347.55 L149.70,347.58 L149.95,347.60 L150.20,347.62 L150.45,347.64 L150.70,347.66 L150.95,347.67 L151.20,347.69 L151.45,347.71 L151.70,347.72 L151.95,347.73 L152.20,347.75 L152.45,347.76 L152.70,347.77 L152.95,347.78 L153.20,347.79 L153.45,347.80 L153.70,347.81 L153.95,347.82 L154.20,347.83 L154.45,347.84 L154.70,347.85 L154.95,347.86 L155.20,347.86 L155.45,347.87 L155.70,347.88 L155.95,347.89 L156.20,347.89 L156.45,347.90 L156.70,347.91 L156.95,347.91 L157.20,347.92 L157.45,347.92 L157.70,347.93 L157.95,347.93 L158.20,347.94 L158.45,347.94 L158.70,347.95 L158.95,347.95 L159.20,347.96 L159.45,347.96 L159.70,347.97 L159.95,347.97 L160.20,347.98 L160.45,347.98 L160.70,347.98 L160.95,347.99 L161.20,347.99 L161.45,348.00 L161.70,348.00 L161.95,348.00 L162.20,348.01 L162.45,348.01 L162.70,348.01 L162.95,348.02 L163.20,348.02 L163.45,348.02 L163.70,348.03 L163.95,348.03" stroke="#3344ff" stroke-width="1.6" fill="none" stroke-linejoin="round" stroke-linecap="round"/>
<circle cx="64.70" cy="344.93" r="1.1" fill="#1515e0"/>
<circle cx="67.20" cy="344.78" r="1.1" fill="#1515e0"/>
<circle cx="69.70" cy="344.46" r="1.1" fill="#1515e0"/>
<circle cx="71.95" cy="343.92" r="1.1" fill="#1515e0"/>
<circle cx="74.20" cy="343.09" r="1.1" fill="#1515e0"/>
<circle cx="76.45" cy="341.95" r="1.1" fill="#1515e0"/>
<circle cx="78.45" cy="340.76" r="1.1" fill="#1515e0"/>
<circle cx="80.45" cy="339.59" r="1.1" fill="#1515e0"/>
<circle cx="82.70" cy="338.55" r="1.1" fill="#1515e0"/>
<circle cx="84.95" cy="337.92" r="1.1" fill="#1515e0"/>
<circle cx="87.20" cy="337.12" r="1.1" fill="#1515e0"/>
<circle cx="88.70" cy="335.30" r="1.1" fill="#1515e0"/>
<circle cx="89.70" cy="332.81" r="1.1" fill="#1515e0"/>
<circle cx="90.45" cy="330.03" r="1.1" fill="#1515e0"/>
<circle cx="90.95" cy="327.72" r="1.1" fill="#1515e0"/>
<circle cx="91.45" cy="325.07" r="1.1" fill="#1515e0"/>
<circle cx="91.95" cy="322.14" r="1.1" fill="#1515e0"/>
<circle cx="92.45" cy="319.04" r="1.1" fill="#1515e0"/>
<circle cx="92.95" cy="315.90" r="1.1" fill="#1515e0"/>
<circle cx="93.45" cy="312.88" r="1.1" fill="#1515e0"/>
<circle cx="93.95" cy="310.18" r="1.1" fill="#1515e0"/>
<circle cx="94.70" cy="307.15" r="1.1" fill="#1515e0"/>
<circle cx="96.20" cy="306.63" r="1.1" fill="#1515e0"/>
<circle cx="96.95" cy="309.40" r="1.1" fill="#1515e0"/>
<circle cx="97.45" cy="312.14" r="1.1" fill="#1515e0"/>
<circle cx="97.95" cy="315.38" r="1.1" fill="#1515e0"/>
<circle cx="98.45" cy="318.93" r="1.1" fill="#1515e0"/>
<circle cx="98.95" cy="322.58" r="1.1" fill="#1515e0"/>
<circle cx="99.45" cy="326.18" r="1.1" fill="#1515e0"/>
<circle cx="99.95" cy="329.58" r="1.1" fill="#1515e0"/>
<circle cx="100.45" cy="332.68" r="1.1" fill="#1515e0"/>
<circle cx="100.95" cy="335.42" r="1.1" fill="#1515e0"/>
<circle cx="101.45" cy="337.76" r="1.1" fill="#1515e0"/>
<circle cx="102.20" cy="340.54" r="1.1" fill="#1515e0"/>
<circle cx="103.20" cy="343.04" r="1.1" fill="#1515e0"/>
<circle cx="104.70" cy="344.95" r="1.1" fill="#1515e0"/>
<circle cx="106.95" cy="345.83" r="1.1" fill="#1515e0"/>
<circle cx="109.45" cy="345.97" r="1.1" fill="#1515e0"/>
<circle cx="111.95" cy="345.76" r="1.1" fill="#1515e0"/>
<circle cx="114.20" cy="345.15" r="1.1" fill="#1515e0"/>
<circle cx="116.45" cy="343.93" r="1.1" fill="#1515e0"/>
<circle cx="118.45" cy="342.31" r="1.1" fill="#1515e0"/>
<circle cx="120.20" cy="340.67" r="1.1" fill="#1515e0"/>
<circle cx="121.95" cy="339.11" r="1.1" fill="#1515e0"/>
<circle cx="123.95" cy="337.64" r="1.1" fill="#1515e0"/>
<circle cx="125.70" cy="336.08" r="1.1" fill="#1515e0"/>
<circle cx="126.95" cy="333.93" r="1.1" fill="#1515e0"/>
<circle cx="127.95" cy="330.92" r="1.1" fill="#1515e0"/>
<circle cx="128.70" cy="327.61" r="1.1" fill="#1515e0"/>
<circle cx="129.20" cy="324.85" r="1.1" fill="#1515e0"/>
<circle cx="129.70" cy="321.62" r="1.1" fill="#1515e0"/>
<circle cx="130.20" cy="317.95" r="1.1" fill="#1515e0"/>
<circle cx="130.70" cy="313.91" r="1.1" fill="#1515e0"/>
<circle cx="131.20" cy="309.59" r="1.1" fill="#1515e0"/>
<circle cx="131.70" cy="305.13" r="1.1" fill="#1515e0"/>
<circle cx="132.20" cy="300.70" r="1.1" fill="#1515e0"/>
<circle cx="132.70" cy="296.49" r="1.1" fill="#1515e0"/>
<circle cx="133.20" cy="292.71" r="1.1" fill="#1515e0"/>
<circle cx="133.70" cy="289.58" r="1.1" fill="#1515e0"/>
<circle cx="134.20" cy="287.32" r="1.1" fill="#1515e0"/>
<circle cx="135.45" cy="286.35" r="1.1" fill="#1515e0"/>
<circle cx="136.20" cy="289.17" r="1.1" fill="#1515e0"/>
<circle cx="136.70" cy="292.30" r="1.1" fill="#1515e0"/>
<circle cx="137.20" cy="296.21" r="1.1" fill="#1515e0"/>
<circle cx="137.70" cy="300.70" r="1.1" fill="#1515e0"/>
<circle cx="137.95" cy="303.10" r="1.1" fill="#1515e0"/>
<circle cx="138.20" cy="305.55" r="1.1" fill="#1515e0"/>
<circle cx="138.45" cy="308.05" r="1.1" fill="#1515e0"/>
<circle cx="138.70" cy="310.55" r="1.1" fill="#1515e0"/>
<circle cx="138.95" cy="313.05" r="1.1" fill="#1515e0"/>
<circle cx="139.20" cy="315.51" r="1.1" fill="#1515e0"/>
<circle cx="139.45" cy="317.93" r="1.1" fill="#1515e0"/>
<circle cx="139.70" cy="320.28" r="1.1" fill="#1515e0"/>
<circle cx="140.20" cy="324.72" r="1.1" fill="#1515e0"/>
<circle cx="140.70" cy="328.75" r="1.1" fill="#1515e0"/>
<circle cx="141.20" cy="332.32" r="1.1" fill="#1515e0"/>
<circle cx="141.70" cy="335.41" r="1.1" fill="#1515e0"/>
<circle cx="142.20" cy="338.02" r="1.1" fill="#1515e0"/>
<circle cx="142.95" cy="341.10" r="1.1" fill="#1515e0"/>
<circle cx="143.70" cy="343.31" r="1.1" fill="#1515e0"/>
<circle cx="144.95" cy="345.56" r="1.1" fill="#1515e0"/>
<circle cx="146.95" cy="347.04" r="1.1" fill="#1515e0"/>
<circle cx="149.20" cy="347.52" r="1.1" fill="#1515e0"/>
<circle cx="151.70" cy="347.72" r="1.1" fill="#1515e0"/>
<circle cx="154.20" cy="347.83" r="1.1" fill="#1515e0"/>
<circle cx="156.70" cy="347.91" r="1.1" fill="#1515e0"/>
<circle cx="159.20" cy="347.96" r="1.1" fill="#1515e0"/>
<circle cx="161.70" cy="348.00" r="1.1" fill="#1515e0"/>
<line x1="94.50" y1="318.60" x2="87.73" y2="313.36" stroke="#a0701a" stroke-width="1.0"/>
<path d="M85.20,311.40 L88.83,311.94 L86.63,314.78 Z" fill="#a0701a"/>
<line x1="132.70" y1="302.20" x2="126.52" y2="297.37" stroke="#30a030" stroke-width="1.0"/>
<path d="M124.00,295.40 L127.63,295.95 L125.41,298.79 Z" fill="#30a030"/>
<line x1="82.40" y1="339.40" x2="76.72" y2="332.99" stroke="#ff77dd" stroke-width="1.0"/>
<path d="M74.60,330.60 L78.07,331.80 L75.38,334.19 Z" fill="#ff77dd"/>
<line x1="124.00" y1="340.20" x2="119.36" y2="333.17" stroke="#ff8a20" stroke-width="1.0"/>
<path d="M117.60,330.50 L120.86,332.18 L117.86,334.16 Z" fill="#ff8a20"/>
<text x="94.8" y="283.1" font-size="8.2" font-weight="bold">Pd<tspan font-size="5.2" dy="-3">0</tspan><tspan dy="3"> 3d</tspan><tspan font-size="5.2" dy="1.5">5/2</tspan></text>
<text x="92.90" y="292.90" font-size="8.2" font-weight="bold" text-anchor="start" fill="#000">335.28 eV</text>
<text x="55.4" y="299.6" font-size="8.2" font-weight="bold">Pd<tspan font-size="5.2" dy="-3">0</tspan><tspan dy="3"> 3d</tspan><tspan font-size="5.2" dy="1.5">3/2</tspan></text>
<text x="52.80" y="308.80" font-size="8.2" font-weight="bold" text-anchor="start" fill="#000">340.53 eV</text>
<text x="58.5" y="329.3" font-size="8.2" font-weight="bold">Pd<tspan font-size="5.2" dy="-3">2+</tspan></text>
<text x="107.1" y="327.3" font-size="8.2" font-weight="bold">Pd<tspan font-size="5.2" dy="-3">2+</tspan></text>
<rect x="47.50" y="271.20" width="126.90" height="93.10" fill="none" stroke="#4a4a4a" stroke-width="1.3"/>
<line x1="62.20" y1="364.30" x2="62.20" y2="362.10" stroke="#4a4a4a" stroke-width="1.0"/>
<text x="62.20" y="373.50" font-size="8" font-weight="bold" text-anchor="middle" fill="#000">345</text>
<line x1="99.70" y1="364.30" x2="99.70" y2="362.10" stroke="#4a4a4a" stroke-width="1.0"/>
<text x="99.70" y="373.50" font-size="8" font-weight="bold" text-anchor="middle" fill="#000">340</text>
<line x1="137.20" y1="364.30" x2="137.20" y2="362.10" stroke="#4a4a4a" stroke-width="1.0"/>
<text x="137.20" y="373.50" font-size="8" font-weight="bold" text-anchor="middle" fill="#000">335</text>
<line x1="174.70" y1="364.30" x2="174.70" y2="362.10" stroke="#4a4a4a" stroke-width="1.0"/>
<text x="174.70" y="373.50" font-size="8" font-weight="bold" text-anchor="middle" fill="#000">330</text>
<line x1="80.95" y1="364.30" x2="80.95" y2="363.00" stroke="#4a4a4a" stroke-width="1.0"/>
<line x1="118.45" y1="364.30" x2="118.45" y2="363.00" stroke="#4a4a4a" stroke-width="1.0"/>
<line x1="155.95" y1="364.30" x2="155.95" y2="363.00" stroke="#4a4a4a" stroke-width="1.0"/>
<text x="110.95" y="384.30" font-size="8.15" font-weight="bold" text-anchor="middle" fill="#000">Binding Energy (eV)</text>
<text x="53.90" y="284.80" font-size="10.0" font-weight="bold" text-anchor="start" fill="#000">Pd 3d</text>
<text x="36.64" y="318.40" font-size="10.8" font-weight="bold" text-anchor="middle" fill="#000" transform="rotate(-90 36.64 318.4)">Intensity (a.u.)</text>
<text x="2.60" y="276.90" font-size="10" font-weight="bold" text-anchor="start" fill="#000">(g)</text>
<path d="M263.20,357.75 L263.45,357.72 L263.70,357.69 L263.95,357.65 L264.20,357.61 L264.45,357.57 L264.70,357.52 L264.95,357.47 L265.20,357.41 L265.45,357.35 L265.70,357.28 L265.95,357.21 L266.20,357.13 L266.45,357.05 L266.70,356.96 L266.95,356.86 L267.20,356.75 L267.45,356.63 L267.70,356.51 L267.95,356.37 L268.20,356.23 L268.45,356.07 L268.70,355.90 L268.95,355.72 L269.20,355.52 L269.45,355.31 L269.70,355.08 L269.95,354.84 L270.20,354.58 L270.45,354.31 L270.70,354.01 L270.95,353.70 L271.20,353.36 L271.45,353.01 L271.70,352.63 L271.95,352.23 L272.20,351.81 L272.45,351.36 L272.70,350.89 L272.95,350.39 L273.20,349.86 L273.45,349.31 L273.70,348.73 L273.95,348.12 L274.20,347.48 L274.45,346.81 L274.70,346.11 L274.95,345.38 L275.20,344.62 L275.45,343.83 L275.70,343.01 L275.95,342.15 L276.20,341.27 L276.45,340.35 L276.70,339.41 L276.95,338.43 L277.20,337.43 L277.45,336.39 L277.70,335.33 L277.95,334.25 L278.20,333.13 L278.45,332.00 L278.70,330.84 L278.95,329.66 L279.20,328.46 L279.45,327.24 L279.70,326.00 L279.95,324.76 L280.20,323.50 L280.45,322.23 L280.70,320.96 L280.95,319.68 L281.20,318.41 L281.45,317.13 L281.70,315.86 L281.95,314.60 L282.20,313.34 L282.45,312.11 L282.70,310.89 L282.95,309.69 L283.20,308.51 L283.45,307.36 L283.70,306.25 L283.95,305.16 L284.20,304.11 L284.45,303.11 L284.70,302.15 L284.95,301.23 L285.20,300.36 L285.45,299.55 L285.70,298.79 L285.95,298.09 L286.20,297.45 L286.45,296.87 L286.70,296.36 L286.95,295.91 L287.20,295.53 L287.45,295.22 L287.70,294.98 L287.95,294.82 L288.20,294.72 L288.45,294.70 L288.70,294.75 L288.95,294.88 L289.20,295.07 L289.45,295.34 L289.70,295.67 L289.95,296.08 L290.20,296.55 L290.45,297.09 L290.70,297.70 L290.95,298.36 L291.20,299.09 L291.45,299.87 L291.70,300.70 L291.95,301.59 L292.20,302.53 L292.45,303.51 L292.70,304.53 L292.95,305.59 L293.20,306.69 L293.45,307.82 L293.70,308.98 L293.95,310.16 L294.20,311.37 L294.45,312.60 L294.70,313.84 L294.95,315.10 L295.20,316.37 L295.45,317.64 L295.70,318.92 L295.95,320.19 L296.20,321.47 L296.45,322.74 L296.70,324.00 L296.95,325.26 L297.20,326.50 L297.45,327.73 L297.70,328.94 L297.95,330.13 L298.20,331.30 L298.45,332.45 L298.70,333.58 L298.95,334.68 L299.20,335.76 L299.45,336.81 L299.70,337.83 L299.95,338.83 L300.20,339.79 L300.45,340.72 L300.70,341.63 L300.95,342.50 L301.20,343.34 L301.45,344.15 L301.70,344.93 L301.95,345.68 L302.20,346.39 L302.45,347.08 L302.70,347.74 L302.95,348.37 L303.20,348.96 L303.45,349.53 L303.70,350.08 L303.95,350.59 L304.20,351.08 L304.45,351.54 L304.70,351.98 L304.95,352.39 L305.20,352.78 L305.45,353.15 L305.70,353.50 L305.95,353.82 L306.20,354.13 L306.45,354.42 L306.70,354.69 L306.95,354.94 L307.20,355.17 L307.45,355.39 L307.70,355.60 L307.95,355.79 L308.20,355.97 L308.45,356.13 L308.70,356.29 L308.95,356.43 L309.20,356.56 L309.45,356.68 L309.70,356.80 L309.95,356.90 L310.20,357.00 L310.45,357.08 L310.70,357.17 L310.95,357.24 L311.20,357.31 L311.45,357.38 L311.70,357.43 L311.95,357.49 L312.20,357.54 L312.45,357.58 L312.70,357.63 L312.95,357.66 L313.20,357.70 L313.45,357.73 L313.70,357.76 L313.95,357.79 L313.95,358.30 L263.20,358.30 Z" stroke="none" stroke-width="0" fill="url(#gh)" stroke-linejoin="round" stroke-linecap="round"/>
<line x1="263.20" y1="358.50" x2="314.10" y2="358.50" stroke="#cc44ff" stroke-width="1.0"/>
<path d="M230.20,358.23 L230.45,358.23 L230.70,358.23 L230.95,358.23 L231.20,358.23 L231.45,358.23 L231.70,358.23 L231.95,358.22 L232.20,358.22 L232.45,358.22 L232.70,358.22 L232.95,358.22 L233.20,358.22 L233.45,358.22 L233.70,358.22 L233.95,358.22 L234.20,358.22 L234.45,358.22 L234.70,358.22 L234.95,358.22 L235.20,358.22 L235.45,358.21 L235.70,358.21 L235.95,358.21 L236.20,358.21 L236.45,358.21 L236.70,358.21 L236.95,358.21 L237.20,358.21 L237.45,358.21 L237.70,358.21 L237.95,358.21 L238.20,358.21 L238.45,358.20 L238.70,358.20 L238.95,358.20 L239.20,358.20 L239.45,358.20 L239.70,358.20 L239.95,358.20 L240.20,358.20 L240.45,358.20 L240.70,358.20 L240.95,358.19 L241.20,358.19 L241.45,358.19 L241.70,358.19 L241.95,358.19 L242.20,358.19 L242.45,358.19 L242.70,358.19 L242.95,358.19 L243.20,358.18 L243.45,358.18 L243.70,358.18 L243.95,358.18 L244.20,358.18 L244.45,358.18 L244.70,358.18 L244.95,358.17 L245.20,358.17 L245.45,358.17 L245.70,358.17 L245.95,358.17 L246.20,358.17 L246.45,358.17 L246.70,358.16 L246.95,358.16 L247.20,358.16 L247.45,358.16 L247.70,358.16 L247.95,358.16 L248.20,358.15 L248.45,358.15 L248.70,358.15 L248.95,358.15 L249.20,358.15 L249.45,358.15 L249.70,358.14 L249.95,358.14 L250.20,358.14 L250.45,358.14 L250.70,358.14 L250.95,358.13 L251.20,358.13 L251.45,358.13 L251.70,358.13 L251.95,358.12 L252.20,358.12 L252.45,358.12 L252.70,358.12 L252.95,358.11 L253.20,358.11 L253.45,358.11 L253.70,358.11 L253.95,358.10 L254.20,358.10 L254.45,358.10 L254.70,358.09 L254.95,358.09 L255.20,358.09 L255.45,358.08 L255.70,358.08 L255.95,358.08 L256.20,358.07 L256.45,358.07 L256.70,358.06 L256.95,358.06 L257.20,358.06 L257.45,358.05 L257.70,358.05 L257.95,358.04 L258.20,358.03 L258.45,358.03 L258.70,358.02 L258.95,358.01 L259.20,358.01 L259.45,358.00 L259.70,357.99 L259.95,357.98 L260.20,357.97 L260.45,357.96 L260.70,357.95 L260.95,357.93 L261.20,357.92 L261.45,357.90 L261.70,357.89 L261.95,357.87 L262.20,357.85 L262.45,357.83 L262.70,357.80 L262.95,357.78 L263.20,357.75 L263.45,357.72 L263.70,357.69 L263.95,357.65 L264.20,357.61 L264.45,357.57 L264.70,357.52 L264.95,357.47 L265.20,357.41 L265.45,357.35 L265.70,357.28 L265.95,357.21 L266.20,357.13 L266.45,357.05 L266.70,356.96 L266.95,356.86 L267.20,356.75 L267.45,356.63 L267.70,356.51 L267.95,356.37 L268.20,356.23 L268.45,356.07 L268.70,355.90 L268.95,355.72 L269.20,355.52 L269.45,355.31 L269.70,355.08 L269.95,354.84 L270.20,354.58 L270.45,354.31 L270.70,354.01 L270.95,353.70 L271.20,353.36 L271.45,353.01 L271.70,352.63 L271.95,352.23 L272.20,351.81 L272.45,351.36 L272.70,350.89 L272.95,350.39 L273.20,349.86 L273.45,349.31 L273.70,348.73 L273.95,348.12 L274.20,347.48 L274.45,346.81 L274.70,346.11 L274.95,345.38 L275.20,344.62 L275.45,343.83 L275.70,343.01 L275.95,342.15 L276.20,341.27 L276.45,340.35 L276.70,339.41 L276.95,338.43 L277.20,337.43 L277.45,336.39 L277.70,335.33 L277.95,334.25 L278.20,333.13 L278.45,332.00 L278.70,330.84 L278.95,329.66 L279.20,328.46 L279.45,327.24 L279.70,326.00 L279.95,324.76 L280.20,323.50 L280.45,322.23 L280.70,320.96 L280.95,319.68 L281.20,318.41 L281.45,317.13 L281.70,315.86 L281.95,314.60 L282.20,313.34 L282.45,312.11 L282.70,310.89 L282.95,309.69 L283.20,308.51 L283.45,307.36 L283.70,306.25 L283.95,305.16 L284.20,304.11 L284.45,303.11 L284.70,302.15 L284.95,301.23 L285.20,300.36 L285.45,299.55 L285.70,298.79 L285.95,298.09 L286.20,297.45 L286.45,296.87 L286.70,296.36 L286.95,295.91 L287.20,295.53 L287.45,295.22 L287.70,294.98 L287.95,294.82 L288.20,294.72 L288.45,294.70 L288.70,294.75 L288.95,294.88 L289.20,295.07 L289.45,295.34 L289.70,295.67 L289.95,296.08 L290.20,296.55 L290.45,297.09 L290.70,297.70 L290.95,298.36 L291.20,299.09 L291.45,299.87 L291.70,300.70 L291.95,301.59 L292.20,302.53 L292.45,303.51 L292.70,304.53 L292.95,305.59 L293.20,306.69 L293.45,307.82 L293.70,308.98 L293.95,310.16 L294.20,311.37 L294.45,312.60 L294.70,313.84 L294.95,315.10 L295.20,316.37 L295.45,317.64 L295.70,318.92 L295.95,320.19 L296.20,321.47 L296.45,322.74 L296.70,324.00 L296.95,325.26 L297.20,326.50 L297.45,327.73 L297.70,328.94 L297.95,330.13 L298.20,331.30 L298.45,332.45 L298.70,333.58 L298.95,334.68 L299.20,335.76 L299.45,336.81 L299.70,337.83 L299.95,338.83 L300.20,339.79 L300.45,340.72 L300.70,341.63 L300.95,342.50 L301.20,343.34 L301.45,344.15 L301.70,344.93 L301.95,345.68 L302.20,346.39 L302.45,347.08 L302.70,347.74 L302.95,348.37 L303.20,348.96 L303.45,349.53 L303.70,350.08 L303.95,350.59 L304.20,351.08 L304.45,351.54 L304.70,351.98 L304.95,352.39 L305.20,352.78 L305.45,353.15 L305.70,353.50 L305.95,353.82 L306.20,354.13 L306.45,354.42 L306.70,354.69 L306.95,354.94 L307.20,355.17 L307.45,355.39 L307.70,355.60 L307.95,355.79 L308.20,355.97 L308.45,356.13 L308.70,356.29 L308.95,356.43 L309.20,356.56 L309.45,356.68 L309.70,356.80 L309.95,356.90 L310.20,357.00 L310.45,357.08 L310.70,357.17 L310.95,357.24 L311.20,357.31 L311.45,357.38 L311.70,357.43 L311.95,357.49 L312.20,357.54 L312.45,357.58 L312.70,357.63 L312.95,357.66 L313.20,357.70 L313.45,357.73 L313.70,357.76 L313.95,357.79 L314.20,357.81 L314.45,357.84 L314.70,357.86 L314.95,357.88 L315.20,357.89 L315.45,357.91 L315.70,357.92 L315.95,357.94 L316.20,357.95 L316.45,357.96 L316.70,357.97 L316.95,357.98 L317.20,357.99 L317.45,358.00 L317.70,358.01 L317.95,358.02 L318.20,358.02 L318.45,358.03 L318.70,358.04 L318.95,358.04 L319.20,358.05 L319.45,358.05 L319.70,358.06 L319.95,358.06 L320.20,358.07 L320.45,358.07 L320.70,358.07 L320.95,358.08 L321.20,358.08 L321.45,358.09 L321.70,358.09 L321.95,358.09 L322.20,358.10 L322.45,358.10 L322.70,358.10 L322.95,358.10 L323.20,358.11 L323.45,358.11 L323.70,358.11 L323.95,358.12 L324.20,358.12 L324.45,358.12 L324.70,358.12 L324.95,358.13 L325.20,358.13 L325.45,358.13 L325.70,358.13 L325.95,358.13 L326.20,358.14 L326.45,358.14 L326.70,358.14 L326.95,358.14 L327.20,358.14 L327.45,358.15 L327.70,358.15 L327.95,358.15 L328.20,358.15 L328.45,358.15 L328.70,358.16 L328.95,358.16 L329.20,358.16 L329.45,358.16 L329.70,358.16 L329.95,358.16 L330.20,358.17 L330.45,358.17 L330.70,358.17 L330.95,358.17 L331.20,358.17 L331.45,358.17 L331.70,358.17 L331.95,358.18 L332.20,358.18 L332.45,358.18 L332.70,358.18 L332.95,358.18 L333.20,358.18 L333.45,358.18 L333.70,358.18 L333.95,358.19 L334.20,358.19 L334.45,358.19 L334.70,358.19 L334.95,358.19 L335.20,358.19 L335.45,358.19 L335.70,358.19 L335.95,358.19 L336.20,358.20 L336.45,358.20 L336.70,358.20 L336.95,358.20 L337.20,358.20 L337.45,358.20 L337.70,358.20 L337.95,358.20 L338.20,358.20 L338.45,358.20 L338.70,358.21 L338.95,358.21 L339.20,358.21 L339.45,358.21 L339.70,358.21 L339.95,358.21 L340.20,358.21 L340.45,358.21 L340.70,358.21 L340.95,358.21 L341.20,358.21 L341.45,358.21 L341.70,358.22 L341.95,358.22 L342.20,358.22 L342.45,358.22 L342.70,358.22 L342.95,358.22 L343.20,358.22 L343.45,358.22 L343.70,358.22 L343.95,358.22 L344.20,358.22 L344.45,358.22 L344.70,358.22 L344.95,358.22 L345.20,358.23 L345.45,358.23 L345.70,358.23 L345.95,358.23 L346.20,358.23 L346.45,358.23 L346.70,358.23 L346.95,358.23 L347.20,358.23 L347.45,358.23 L347.70,358.23 L347.95,358.23 L348.20,358.23 L348.45,358.23 L348.70,358.23 L348.95,358.23 L349.20,358.23 L349.45,358.24 L349.70,358.24 L349.95,358.24 L350.20,358.24 L350.45,358.24 L350.70,358.24 L350.95,358.24 L351.20,358.24 L351.45,358.24 L351.70,358.24 L351.95,358.24 L352.20,358.24 L352.45,358.24 L352.70,358.24 L352.95,358.24 L353.20,358.24 L353.45,358.24 L353.70,358.24 L353.95,358.24 L354.20,358.24 L354.45,358.24 L354.70,358.24 L354.95,358.25 L355.20,358.25 L355.45,358.25 L355.70,358.25 L355.95,358.25 L356.20,358.25 L356.45,358.25" stroke="#ff9a30" stroke-width="2.0" fill="none" stroke-linejoin="round" stroke-linecap="round"/>
<circle cx="230.20" cy="358.23" r="0.95" fill="#e07810"/>
<circle cx="232.45" cy="358.22" r="0.95" fill="#e07810"/>
<circle cx="234.70" cy="358.22" r="0.95" fill="#e07810"/>
<circle cx="236.95" cy="358.21" r="0.95" fill="#e07810"/>
<circle cx="239.20" cy="358.20" r="0.95" fill="#e07810"/>
<circle cx="241.45" cy="358.19" r="0.95" fill="#e07810"/>
<circle cx="243.70" cy="358.18" r="0.95" fill="#e07810"/>
<circle cx="245.95" cy="358.17" r="0.95" fill="#e07810"/>
<circle cx="248.20" cy="358.15" r="0.95" fill="#e07810"/>
<circle cx="250.45" cy="358.14" r="0.95" fill="#e07810"/>
<circle cx="252.70" cy="358.12" r="0.95" fill="#e07810"/>
<circle cx="254.95" cy="358.09" r="0.95" fill="#e07810"/>
<circle cx="257.20" cy="358.06" r="0.95" fill="#e07810"/>
<circle cx="259.45" cy="358.00" r="0.95" fill="#e07810"/>
<circle cx="261.70" cy="357.89" r="0.95" fill="#e07810"/>
<circle cx="263.95" cy="357.65" r="0.95" fill="#e07810"/>
<circle cx="266.20" cy="357.13" r="0.95" fill="#e07810"/>
<circle cx="268.20" cy="356.23" r="0.95" fill="#e07810"/>
<circle cx="269.95" cy="354.84" r="0.95" fill="#e07810"/>
<circle cx="271.45" cy="353.01" r="0.95" fill="#e07810"/>
<circle cx="272.70" cy="350.89" r="0.95" fill="#e07810"/>
<circle cx="273.70" cy="348.73" r="0.95" fill="#e07810"/>
<circle cx="274.70" cy="346.11" r="0.95" fill="#e07810"/>
<circle cx="275.45" cy="343.83" r="0.95" fill="#e07810"/>
<circle cx="276.20" cy="341.27" r="0.95" fill="#e07810"/>
<circle cx="276.95" cy="338.43" r="0.95" fill="#e07810"/>
<circle cx="277.70" cy="335.33" r="0.95" fill="#e07810"/>
<circle cx="278.20" cy="333.13" r="0.95" fill="#e07810"/>
<circle cx="278.70" cy="330.84" r="0.95" fill="#e07810"/>
<circle cx="279.20" cy="328.46" r="0.95" fill="#e07810"/>
<circle cx="279.70" cy="326.00" r="0.95" fill="#e07810"/>
<circle cx="280.20" cy="323.50" r="0.95" fill="#e07810"/>
<circle cx="280.70" cy="320.96" r="0.95" fill="#e07810"/>
<circle cx="281.20" cy="318.41" r="0.95" fill="#e07810"/>
<circle cx="281.70" cy="315.86" r="0.95" fill="#e07810"/>
<circle cx="282.20" cy="313.34" r="0.95" fill="#e07810"/>
<circle cx="282.70" cy="310.89" r="0.95" fill="#e07810"/>
<circle cx="283.20" cy="308.51" r="0.95" fill="#e07810"/>
<circle cx="283.70" cy="306.25" r="0.95" fill="#e07810"/>
<circle cx="284.20" cy="304.11" r="0.95" fill="#e07810"/>
<circle cx="284.95" cy="301.23" r="0.95" fill="#e07810"/>
<circle cx="285.70" cy="298.79" r="0.95" fill="#e07810"/>
<circle cx="286.70" cy="296.36" r="0.95" fill="#e07810"/>
<circle cx="288.20" cy="294.72" r="0.95" fill="#e07810"/>
<circle cx="289.95" cy="296.08" r="0.95" fill="#e07810"/>
<circle cx="290.95" cy="298.36" r="0.95" fill="#e07810"/>
<circle cx="291.70" cy="300.70" r="0.95" fill="#e07810"/>
<circle cx="292.45" cy="303.51" r="0.95" fill="#e07810"/>
<circle cx="292.95" cy="305.59" r="0.95" fill="#e07810"/>
<circle cx="293.45" cy="307.82" r="0.95" fill="#e07810"/>
<circle cx="293.95" cy="310.16" r="0.95" fill="#e07810"/>
<circle cx="294.45" cy="312.60" r="0.95" fill="#e07810"/>
<circle cx="294.95" cy="315.10" r="0.95" fill="#e07810"/>
<circle cx="295.45" cy="317.64" r="0.95" fill="#e07810"/>
<circle cx="295.95" cy="320.19" r="0.95" fill="#e07810"/>
<circle cx="296.45" cy="322.74" r="0.95" fill="#e07810"/>
<circle cx="296.95" cy="325.26" r="0.95" fill="#e07810"/>
<circle cx="297.45" cy="327.73" r="0.95" fill="#e07810"/>
<circle cx="297.95" cy="330.13" r="0.95" fill="#e07810"/>
<circle cx="298.45" cy="332.45" r="0.95" fill="#e07810"/>
<circle cx="298.95" cy="334.68" r="0.95" fill="#e07810"/>
<circle cx="299.45" cy="336.81" r="0.95" fill="#e07810"/>
<circle cx="300.20" cy="339.79" r="0.95" fill="#e07810"/>
<circle cx="300.95" cy="342.50" r="0.95" fill="#e07810"/>
<circle cx="301.70" cy="344.93" r="0.95" fill="#e07810"/>
<circle cx="302.45" cy="347.08" r="0.95" fill="#e07810"/>
<circle cx="303.45" cy="349.53" r="0.95" fill="#e07810"/>
<circle cx="304.45" cy="351.54" r="0.95" fill="#e07810"/>
<circle cx="305.70" cy="353.50" r="0.95" fill="#e07810"/>
<circle cx="307.20" cy="355.17" r="0.95" fill="#e07810"/>
<circle cx="308.95" cy="356.43" r="0.95" fill="#e07810"/>
<circle cx="310.95" cy="357.24" r="0.95" fill="#e07810"/>
<circle cx="313.20" cy="357.70" r="0.95" fill="#e07810"/>
<circle cx="315.45" cy="357.91" r="0.95" fill="#e07810"/>
<circle cx="317.70" cy="358.01" r="0.95" fill="#e07810"/>
<circle cx="319.95" cy="358.06" r="0.95" fill="#e07810"/>
<circle cx="322.20" cy="358.10" r="0.95" fill="#e07810"/>
<circle cx="324.45" cy="358.12" r="0.95" fill="#e07810"/>
<circle cx="326.70" cy="358.14" r="0.95" fill="#e07810"/>
<circle cx="328.95" cy="358.16" r="0.95" fill="#e07810"/>
<circle cx="331.20" cy="358.17" r="0.95" fill="#e07810"/>
<circle cx="333.45" cy="358.18" r="0.95" fill="#e07810"/>
<circle cx="335.70" cy="358.19" r="0.95" fill="#e07810"/>
<circle cx="337.95" cy="358.20" r="0.95" fill="#e07810"/>
<circle cx="340.20" cy="358.21" r="0.95" fill="#e07810"/>
<circle cx="342.45" cy="358.22" r="0.95" fill="#e07810"/>
<circle cx="344.70" cy="358.22" r="0.95" fill="#e07810"/>
<circle cx="346.95" cy="358.23" r="0.95" fill="#e07810"/>
<circle cx="349.20" cy="358.23" r="0.95" fill="#e07810"/>
<circle cx="351.45" cy="358.24" r="0.95" fill="#e07810"/>
<circle cx="353.70" cy="358.24" r="0.95" fill="#e07810"/>
<circle cx="355.95" cy="358.25" r="0.95" fill="#e07810"/>
<rect x="229.50" y="270.90" width="127.90" height="93.90" fill="none" stroke="#4a4a4a" stroke-width="1.3"/>
<line x1="247.80" y1="364.80" x2="247.80" y2="362.60" stroke="#4a4a4a" stroke-width="1.0"/>
<text x="247.80" y="374.00" font-size="8" font-weight="bold" text-anchor="middle" fill="#000">108</text>
<line x1="275.25" y1="364.80" x2="275.25" y2="362.60" stroke="#4a4a4a" stroke-width="1.0"/>
<text x="275.25" y="374.00" font-size="8" font-weight="bold" text-anchor="middle" fill="#000">105</text>
<line x1="302.70" y1="364.80" x2="302.70" y2="362.60" stroke="#4a4a4a" stroke-width="1.0"/>
<text x="302.70" y="374.00" font-size="8" font-weight="bold" text-anchor="middle" fill="#000">102</text>
<line x1="330.15" y1="364.80" x2="330.15" y2="362.60" stroke="#4a4a4a" stroke-width="1.0"/>
<text x="330.15" y="374.00" font-size="8" font-weight="bold" text-anchor="middle" fill="#000">99</text>
<line x1="357.60" y1="364.80" x2="357.60" y2="362.60" stroke="#4a4a4a" stroke-width="1.0"/>
<text x="357.60" y="374.00" font-size="8" font-weight="bold" text-anchor="middle" fill="#000">96</text>
<line x1="234.07" y1="364.80" x2="234.07" y2="363.50" stroke="#4a4a4a" stroke-width="1.0"/>
<line x1="261.52" y1="364.80" x2="261.52" y2="363.50" stroke="#4a4a4a" stroke-width="1.0"/>
<line x1="288.98" y1="364.80" x2="288.98" y2="363.50" stroke="#4a4a4a" stroke-width="1.0"/>
<line x1="316.43" y1="364.80" x2="316.43" y2="363.50" stroke="#4a4a4a" stroke-width="1.0"/>
<line x1="343.88" y1="364.80" x2="343.88" y2="363.50" stroke="#4a4a4a" stroke-width="1.0"/>
<text x="293.45" y="384.80" font-size="8.15" font-weight="bold" text-anchor="middle" fill="#000">Binding Energy (eV)</text>
<text x="235.30" y="284.60" font-size="10.0" font-weight="bold" text-anchor="start" fill="#000">Si 2p</text>
<text x="218.64" y="319.80" font-size="10.8" font-weight="bold" text-anchor="middle" fill="#000" transform="rotate(-90 218.64000000000001 319.8)">Intensity (a.u.)</text>
<text x="186.00" y="276.90" font-size="10" font-weight="bold" text-anchor="start" fill="#000">(h)</text>
<text x="301.00" y="302.20" font-size="10.0" font-weight="bold" text-anchor="start" fill="#000">103.57 eV</text>
<path d="M415.20,357.42 L415.45,357.42 L415.70,357.42 L415.95,357.42 L416.20,357.42 L416.45,357.41 L416.70,357.41 L416.95,357.41 L417.20,357.41 L417.45,357.41 L417.70,357.41 L417.95,357.40 L418.20,357.40 L418.45,357.40 L418.70,357.40 L418.95,357.40 L419.20,357.40 L419.45,357.40 L419.70,357.39 L419.95,357.39 L420.20,357.39 L420.45,357.39 L420.70,357.39 L420.95,357.38 L421.20,357.38 L421.45,357.38 L421.70,357.38 L421.95,357.38 L422.20,357.38 L422.45,357.37 L422.70,357.37 L422.95,357.37 L423.20,357.37 L423.45,357.37 L423.70,357.36 L423.95,357.36 L424.20,357.36 L424.45,357.36 L424.70,357.36 L424.95,357.35 L425.20,357.35 L425.45,357.35 L425.70,357.35 L425.95,357.34 L426.20,357.34 L426.45,357.34 L426.70,357.34 L426.95,357.33 L427.20,357.33 L427.45,357.33 L427.70,357.33 L427.95,357.32 L428.20,357.32 L428.45,357.32 L428.70,357.32 L428.95,357.31 L429.20,357.31 L429.45,357.31 L429.70,357.31 L429.95,357.30 L430.20,357.30 L430.45,357.30 L430.70,357.29 L430.95,357.29 L431.20,357.29 L431.45,357.28 L431.70,357.28 L431.95,357.28 L432.20,357.27 L432.45,357.27 L432.70,357.27 L432.95,357.26 L433.20,357.26 L433.45,357.26 L433.70,357.25 L433.95,357.25 L434.20,357.25 L434.45,357.24 L434.70,357.24 L434.95,357.24 L435.20,357.23 L435.45,357.23 L435.70,357.22 L435.95,357.22 L436.20,357.22 L436.45,357.21 L436.70,357.21 L436.95,357.20 L437.20,357.20 L437.45,357.19 L437.70,357.19 L437.95,357.18 L438.20,357.18 L438.45,357.17 L438.70,357.17 L438.95,357.16 L439.20,357.16 L439.45,357.15 L439.70,357.15 L439.95,357.14 L440.20,357.14 L440.45,357.13 L440.70,357.13 L440.95,357.12 L441.20,357.11 L441.45,357.11 L441.70,357.10 L441.95,357.10 L442.20,357.09 L442.45,357.08 L442.70,357.08 L442.95,357.07 L443.20,357.06 L443.45,357.06 L443.70,357.05 L443.95,357.04 L444.20,357.03 L444.45,357.03 L444.70,357.02 L444.95,357.01 L445.20,357.00 L445.45,356.99 L445.70,356.99 L445.95,356.98 L446.20,356.97 L446.45,356.96 L446.70,356.95 L446.95,356.94 L447.20,356.93 L447.45,356.92 L447.70,356.91 L447.95,356.90 L448.20,356.89 L448.45,356.88 L448.70,356.87 L448.95,356.86 L449.20,356.84 L449.45,356.83 L449.70,356.82 L449.95,356.81 L450.20,356.79 L450.45,356.78 L450.70,356.77 L450.95,356.75 L451.20,356.74 L451.45,356.72 L451.70,356.70 L451.95,356.69 L452.20,356.67 L452.45,356.65 L452.70,356.63 L452.95,356.61 L453.20,356.59 L453.45,356.57 L453.70,356.55 L453.95,356.52 L454.20,356.50 L454.45,356.47 L454.70,356.44 L454.95,356.41 L455.20,356.38 L455.45,356.34 L455.70,356.31 L455.95,356.27 L456.20,356.23 L456.45,356.18 L456.70,356.13 L456.95,356.08 L457.20,356.03 L457.45,355.97 L457.70,355.91 L457.95,355.84 L458.20,355.77 L458.45,355.69 L458.70,355.61 L458.95,355.52 L459.20,355.42 L459.45,355.32 L459.70,355.21 L459.95,355.09 L460.20,354.96 L460.45,354.82 L460.70,354.67 L460.95,354.51 L461.20,354.34 L461.45,354.16 L461.70,353.96 L461.95,353.75 L462.20,353.53 L462.45,353.29 L462.70,353.03 L462.95,352.76 L463.20,352.46 L463.45,352.15 L463.70,351.82 L463.95,351.47 L464.20,351.09 L464.45,350.70 L464.70,350.28 L464.95,349.83 L465.20,349.36 L465.45,348.86 L465.70,348.34 L465.95,347.78 L466.20,347.20 L466.45,346.59 L466.70,345.95 L466.95,345.28 L467.20,344.58 L467.45,343.85 L467.70,343.08 L467.95,342.29 L468.20,341.46 L468.45,340.60 L468.70,339.71 L468.95,338.78 L469.20,337.83 L469.45,336.84 L469.70,335.83 L469.95,334.78 L470.20,333.71 L470.45,332.61 L470.70,331.48 L470.95,330.33 L471.20,329.16 L471.45,327.96 L471.70,326.75 L471.95,325.52 L472.20,324.27 L472.45,323.01 L472.70,321.74 L472.95,320.46 L473.20,319.18 L473.45,317.90 L473.70,316.62 L473.95,315.34 L474.20,314.07 L474.45,312.81 L474.70,311.57 L474.95,310.35 L475.20,309.15 L475.45,307.98 L475.70,306.84 L475.95,305.73 L476.20,304.67 L476.45,303.64 L476.70,302.67 L476.95,301.74 L477.20,300.87 L477.45,300.06 L477.70,299.31 L477.95,298.63 L478.20,298.02 L478.45,297.48 L478.70,297.02 L478.95,296.63 L479.20,296.33 L479.45,296.10 L479.70,295.96 L479.95,295.90 L480.20,295.93 L480.45,296.04 L480.70,296.23 L480.95,296.50 L481.20,296.86 L481.45,297.29 L481.70,297.80 L481.95,298.38 L482.20,299.03 L482.45,299.76 L482.70,300.54 L482.95,301.39 L483.20,302.29 L483.45,303.25 L483.70,304.25 L483.95,305.30 L484.20,306.39 L484.45,307.52 L484.70,308.68 L484.95,309.87 L485.20,311.08 L485.45,312.32 L485.70,313.57 L485.95,314.83 L486.20,316.11 L486.45,317.39 L486.70,318.67 L486.95,319.95 L487.20,321.23 L487.45,322.50 L487.70,323.77 L487.95,325.02 L488.20,326.26 L488.45,327.48 L488.70,328.68 L488.95,329.87 L489.20,331.03 L489.45,332.16 L489.70,333.27 L489.95,334.36 L490.20,335.41 L490.45,336.44 L490.70,337.44 L490.95,338.41 L491.20,339.34 L491.45,340.25 L491.70,341.12 L491.95,341.96 L492.20,342.77 L492.45,343.55 L492.70,344.29 L492.95,345.01 L493.20,345.69 L493.45,346.34 L493.70,346.96 L493.95,347.56 L494.20,348.12 L494.45,348.65 L494.70,349.16 L494.95,349.64 L495.20,350.10 L495.45,350.53 L495.70,350.94 L495.95,351.32 L496.20,351.68 L496.45,352.02 L496.70,352.34 L496.95,352.64 L497.20,352.92 L497.45,353.19 L497.70,353.43 L497.95,353.67 L498.20,353.88 L498.45,354.08 L498.70,354.27 L498.95,354.45 L499.20,354.61 L499.45,354.76 L499.70,354.91 L499.95,355.04 L500.20,355.16 L500.45,355.28 L500.70,355.38 L500.95,355.48 L501.20,355.57 L501.45,355.66 L501.70,355.74 L501.95,355.81 L502.20,355.88 L502.45,355.95 L502.70,356.01 L502.95,356.06 L503.20,356.11 L503.45,356.16 L503.70,356.21 L503.95,356.25 L504.20,356.29 L504.45,356.33 L504.70,356.36 L504.95,356.40 L505.20,356.43 L505.45,356.46 L505.70,356.49 L505.95,356.51 L506.20,356.54 L506.45,356.56 L506.70,356.58 L506.95,356.60 L507.20,356.62 L507.45,356.64 L507.70,356.66 L507.95,356.68 L508.20,356.70 L508.45,356.71 L508.70,356.73 L508.95,356.75 L509.20,356.76 L509.45,356.77 L509.70,356.79 L509.95,356.80 L510.20,356.81 L510.45,356.83 L510.70,356.84 L510.95,356.85 L511.20,356.86 L511.45,356.87 L511.70,356.89 L511.95,356.90 L512.20,356.91 L512.45,356.92 L512.70,356.93 L512.95,356.94 L513.20,356.95 L513.45,356.96 L513.70,356.96 L513.95,356.97 L514.20,356.98 L514.45,356.99 L514.70,357.00 L514.95,357.01 L515.20,357.01 L515.45,357.02 L515.70,357.03 L515.95,357.04 L516.20,357.05 L516.45,357.05 L516.70,357.06 L516.95,357.07 L517.20,357.07 L517.45,357.08 L517.70,357.09 L517.95,357.09 L518.20,357.10 L518.45,357.11 L518.70,357.11 L518.95,357.12 L519.20,357.12 L519.45,357.13 L519.70,357.13 L519.95,357.14 L520.20,357.15 L520.45,357.15 L520.70,357.16 L520.95,357.16 L521.20,357.17 L521.45,357.17 L521.70,357.18 L521.95,357.18 L522.20,357.19 L522.45,357.19 L522.70,357.20 L522.95,357.20 L523.20,357.20 L523.45,357.21 L523.70,357.21 L523.95,357.22 L524.20,357.22 L524.45,357.23 L524.70,357.23 L524.95,357.23 L525.20,357.24 L525.45,357.24 L525.70,357.25 L525.95,357.25 L526.20,357.25 L526.45,357.26 L526.70,357.26 L526.95,357.26 L527.20,357.27 L527.45,357.27 L527.70,357.27 L527.95,357.28 L528.20,357.28 L528.45,357.28 L528.70,357.29 L528.95,357.29 L529.20,357.29 L529.45,357.30 L529.70,357.30 L529.95,357.30 L530.20,357.30 L530.45,357.31 L530.70,357.31 L530.95,357.31 L531.20,357.32 L531.45,357.32 L531.70,357.32 L531.95,357.32 L532.20,357.33 L532.45,357.33 L532.70,357.33 L532.95,357.33 L533.20,357.34 L533.45,357.34 L533.70,357.34 L533.95,357.34 L534.20,357.35 L534.45,357.35 L534.70,357.35 L534.95,357.35 L535.20,357.35 L535.45,357.36 L535.70,357.36 L535.95,357.36 L536.20,357.36 L536.45,357.36 L536.70,357.37 L536.95,357.37 L537.20,357.37 L537.45,357.37 L537.70,357.37 L537.95,357.38 L538.20,357.38 L538.45,357.38 L538.70,357.38 L538.95,357.38 L539.20,357.39 L539.45,357.39 L539.70,357.39 L539.95,357.39 L540.20,357.39 L540.45,357.39 L540.70,357.40 L540.70,357.60 L415.20,357.60 Z" stroke="none" stroke-width="0" fill="url(#gi)" stroke-linejoin="round" stroke-linecap="round"/>
<line x1="415.00" y1="357.80" x2="540.90" y2="357.80" stroke="#c8c8c8" stroke-width="1.0"/>
<path d="M414.70,357.42 L414.95,357.42 L415.20,357.42 L415.45,357.42 L415.70,357.42 L415.95,357.42 L416.20,357.42 L416.45,357.41 L416.70,357.41 L416.95,357.41 L417.20,357.41 L417.45,357.41 L417.70,357.41 L417.95,357.40 L418.20,357.40 L418.45,357.40 L418.70,357.40 L418.95,357.40 L419.20,357.40 L419.45,357.40 L419.70,357.39 L419.95,357.39 L420.20,357.39 L420.45,357.39 L420.70,357.39 L420.95,357.38 L421.20,357.38 L421.45,357.38 L421.70,357.38 L421.95,357.38 L422.20,357.38 L422.45,357.37 L422.70,357.37 L422.95,357.37 L423.20,357.37 L423.45,357.37 L423.70,357.36 L423.95,357.36 L424.20,357.36 L424.45,357.36 L424.70,357.36 L424.95,357.35 L425.20,357.35 L425.45,357.35 L425.70,357.35 L425.95,357.34 L426.20,357.34 L426.45,357.34 L426.70,357.34 L426.95,357.33 L427.20,357.33 L427.45,357.33 L427.70,357.33 L427.95,357.32 L428.20,357.32 L428.45,357.32 L428.70,357.32 L428.95,357.31 L429.20,357.31 L429.45,357.31 L429.70,357.31 L429.95,357.30 L430.20,357.30 L430.45,357.30 L430.70,357.29 L430.95,357.29 L431.20,357.29 L431.45,357.28 L431.70,357.28 L431.95,357.28 L432.20,357.27 L432.45,357.27 L432.70,357.27 L432.95,357.26 L433.20,357.26 L433.45,357.26 L433.70,357.25 L433.95,357.25 L434.20,357.25 L434.45,357.24 L434.70,357.24 L434.95,357.24 L435.20,357.23 L435.45,357.23 L435.70,357.22 L435.95,357.22 L436.20,357.22 L436.45,357.21 L436.70,357.21 L436.95,357.20 L437.20,357.20 L437.45,357.19 L437.70,357.19 L437.95,357.18 L438.20,357.18 L438.45,357.17 L438.70,357.17 L438.95,357.16 L439.20,357.16 L439.45,357.15 L439.70,357.15 L439.95,357.14 L440.20,357.14 L440.45,357.13 L440.70,357.13 L440.95,357.12 L441.20,357.11 L441.45,357.11 L441.70,357.10 L441.95,357.10 L442.20,357.09 L442.45,357.08 L442.70,357.08 L442.95,357.07 L443.20,357.06 L443.45,357.06 L443.70,357.05 L443.95,357.04 L444.20,357.03 L444.45,357.03 L444.70,357.02 L444.95,357.01 L445.20,357.00 L445.45,356.99 L445.70,356.99 L445.95,356.98 L446.20,356.97 L446.45,356.96 L446.70,356.95 L446.95,356.94 L447.20,356.93 L447.45,356.92 L447.70,356.91 L447.95,356.90 L448.20,356.89 L448.45,356.88 L448.70,356.87 L448.95,356.86 L449.20,356.84 L449.45,356.83 L449.70,356.82 L449.95,356.81 L450.20,356.79 L450.45,356.78 L450.70,356.77 L450.95,356.75 L451.20,356.74 L451.45,356.72 L451.70,356.70 L451.95,356.69 L452.20,356.67 L452.45,356.65 L452.70,356.63 L452.95,356.61 L453.20,356.59 L453.45,356.57 L453.70,356.55 L453.95,356.52 L454.20,356.50 L454.45,356.47 L454.70,356.44 L454.95,356.41 L455.20,356.38 L455.45,356.34 L455.70,356.31 L455.95,356.27 L456.20,356.23 L456.45,356.18 L456.70,356.13 L456.95,356.08 L457.20,356.03 L457.45,355.97 L457.70,355.91 L457.95,355.84 L458.20,355.77 L458.45,355.69 L458.70,355.61 L458.95,355.52 L459.20,355.42 L459.45,355.32 L459.70,355.21 L459.95,355.09 L460.20,354.96 L460.45,354.82 L460.70,354.67 L460.95,354.51 L461.20,354.34 L461.45,354.16 L461.70,353.96 L461.95,353.75 L462.20,353.53 L462.45,353.29 L462.70,353.03 L462.95,352.76 L463.20,352.46 L463.45,352.15 L463.70,351.82 L463.95,351.47 L464.20,351.09 L464.45,350.70 L464.70,350.28 L464.95,349.83 L465.20,349.36 L465.45,348.86 L465.70,348.34 L465.95,347.78 L466.20,347.20 L466.45,346.59 L466.70,345.95 L466.95,345.28 L467.20,344.58 L467.45,343.85 L467.70,343.08 L467.95,342.29 L468.20,341.46 L468.45,340.60 L468.70,339.71 L468.95,338.78 L469.20,337.83 L469.45,336.84 L469.70,335.83 L469.95,334.78 L470.20,333.71 L470.45,332.61 L470.70,331.48 L470.95,330.33 L471.20,329.16 L471.45,327.96 L471.70,326.75 L471.95,325.52 L472.20,324.27 L472.45,323.01 L472.70,321.74 L472.95,320.46 L473.20,319.18 L473.45,317.90 L473.70,316.62 L473.95,315.34 L474.20,314.07 L474.45,312.81 L474.70,311.57 L474.95,310.35 L475.20,309.15 L475.45,307.98 L475.70,306.84 L475.95,305.73 L476.20,304.67 L476.45,303.64 L476.70,302.67 L476.95,301.74 L477.20,300.87 L477.45,300.06 L477.70,299.31 L477.95,298.63 L478.20,298.02 L478.45,297.48 L478.70,297.02 L478.95,296.63 L479.20,296.33 L479.45,296.10 L479.70,295.96 L479.95,295.90 L480.20,295.93 L480.45,296.04 L480.70,296.23 L480.95,296.50 L481.20,296.86 L481.45,297.29 L481.70,297.80 L481.95,298.38 L482.20,299.03 L482.45,299.76 L482.70,300.54 L482.95,301.39 L483.20,302.29 L483.45,303.25 L483.70,304.25 L483.95,305.30 L484.20,306.39 L484.45,307.52 L484.70,308.68 L484.95,309.87 L485.20,311.08 L485.45,312.32 L485.70,313.57 L485.95,314.83 L486.20,316.11 L486.45,317.39 L486.70,318.67 L486.95,319.95 L487.20,321.23 L487.45,322.50 L487.70,323.77 L487.95,325.02 L488.20,326.26 L488.45,327.48 L488.70,328.68 L488.95,329.87 L489.20,331.03 L489.45,332.16 L489.70,333.27 L489.95,334.36 L490.20,335.41 L490.45,336.44 L490.70,337.44 L490.95,338.41 L491.20,339.34 L491.45,340.25 L491.70,341.12 L491.95,341.96 L492.20,342.77 L492.45,343.55 L492.70,344.29 L492.95,345.01 L493.20,345.69 L493.45,346.34 L493.70,346.96 L493.95,347.56 L494.20,348.12 L494.45,348.65 L494.70,349.16 L494.95,349.64 L495.20,350.10 L495.45,350.53 L495.70,350.94 L495.95,351.32 L496.20,351.68 L496.45,352.02 L496.70,352.34 L496.95,352.64 L497.20,352.92 L497.45,353.19 L497.70,353.43 L497.95,353.67 L498.20,353.88 L498.45,354.08 L498.70,354.27 L498.95,354.45 L499.20,354.61 L499.45,354.76 L499.70,354.91 L499.95,355.04 L500.20,355.16 L500.45,355.28 L500.70,355.38 L500.95,355.48 L501.20,355.57 L501.45,355.66 L501.70,355.74 L501.95,355.81 L502.20,355.88 L502.45,355.95 L502.70,356.01 L502.95,356.06 L503.20,356.11 L503.45,356.16 L503.70,356.21 L503.95,356.25 L504.20,356.29 L504.45,356.33 L504.70,356.36 L504.95,356.40 L505.20,356.43 L505.45,356.46 L505.70,356.49 L505.95,356.51 L506.20,356.54 L506.45,356.56 L506.70,356.58 L506.95,356.60 L507.20,356.62 L507.45,356.64 L507.70,356.66 L507.95,356.68 L508.20,356.70 L508.45,356.71 L508.70,356.73 L508.95,356.75 L509.20,356.76 L509.45,356.77 L509.70,356.79 L509.95,356.80 L510.20,356.81 L510.45,356.83 L510.70,356.84 L510.95,356.85 L511.20,356.86 L511.45,356.87 L511.70,356.89 L511.95,356.90 L512.20,356.91 L512.45,356.92 L512.70,356.93 L512.95,356.94 L513.20,356.95 L513.45,356.96 L513.70,356.96 L513.95,356.97 L514.20,356.98 L514.45,356.99 L514.70,357.00 L514.95,357.01 L515.20,357.01 L515.45,357.02 L515.70,357.03 L515.95,357.04 L516.20,357.05 L516.45,357.05 L516.70,357.06 L516.95,357.07 L517.20,357.07 L517.45,357.08 L517.70,357.09 L517.95,357.09 L518.20,357.10 L518.45,357.11 L518.70,357.11 L518.95,357.12 L519.20,357.12 L519.45,357.13 L519.70,357.13 L519.95,357.14 L520.20,357.15 L520.45,357.15 L520.70,357.16 L520.95,357.16 L521.20,357.17 L521.45,357.17 L521.70,357.18 L521.95,357.18 L522.20,357.19 L522.45,357.19 L522.70,357.20 L522.95,357.20 L523.20,357.20 L523.45,357.21 L523.70,357.21 L523.95,357.22 L524.20,357.22 L524.45,357.23 L524.70,357.23 L524.95,357.23 L525.20,357.24 L525.45,357.24 L525.70,357.25 L525.95,357.25 L526.20,357.25 L526.45,357.26 L526.70,357.26 L526.95,357.26 L527.20,357.27 L527.45,357.27 L527.70,357.27 L527.95,357.28 L528.20,357.28 L528.45,357.28 L528.70,357.29 L528.95,357.29 L529.20,357.29 L529.45,357.30 L529.70,357.30 L529.95,357.30 L530.20,357.30 L530.45,357.31 L530.70,357.31 L530.95,357.31 L531.20,357.32 L531.45,357.32 L531.70,357.32 L531.95,357.32 L532.20,357.33 L532.45,357.33 L532.70,357.33 L532.95,357.33 L533.20,357.34 L533.45,357.34 L533.70,357.34 L533.95,357.34 L534.20,357.35 L534.45,357.35 L534.70,357.35 L534.95,357.35 L535.20,357.35 L535.45,357.36 L535.70,357.36 L535.95,357.36 L536.20,357.36 L536.45,357.36 L536.70,357.37 L536.95,357.37 L537.20,357.37 L537.45,357.37 L537.70,357.37 L537.95,357.38 L538.20,357.38 L538.45,357.38 L538.70,357.38 L538.95,357.38 L539.20,357.39 L539.45,357.39 L539.70,357.39 L539.95,357.39 L540.20,357.39 L540.45,357.39 L540.70,357.40 L540.95,357.40" stroke="#ff3535" stroke-width="2.0" fill="none" stroke-linejoin="round" stroke-linecap="round"/>
<circle cx="414.70" cy="357.42" r="0.95" fill="#d81010"/>
<circle cx="416.95" cy="357.41" r="0.95" fill="#d81010"/>
<circle cx="419.20" cy="357.40" r="0.95" fill="#d81010"/>
<circle cx="421.45" cy="357.38" r="0.95" fill="#d81010"/>
<circle cx="423.70" cy="357.36" r="0.95" fill="#d81010"/>
<circle cx="425.95" cy="357.34" r="0.95" fill="#d81010"/>
<circle cx="428.20" cy="357.32" r="0.95" fill="#d81010"/>
<circle cx="430.45" cy="357.30" r="0.95" fill="#d81010"/>
<circle cx="432.70" cy="357.27" r="0.95" fill="#d81010"/>
<circle cx="434.95" cy="357.24" r="0.95" fill="#d81010"/>
<circle cx="437.20" cy="357.20" r="0.95" fill="#d81010"/>
<circle cx="439.45" cy="357.15" r="0.95" fill="#d81010"/>
<circle cx="441.70" cy="357.10" r="0.95" fill="#d81010"/>
<circle cx="443.95" cy="357.04" r="0.95" fill="#d81010"/>
<circle cx="446.20" cy="356.97" r="0.95" fill="#d81010"/>
<circle cx="448.45" cy="356.88" r="0.95" fill="#d81010"/>
<circle cx="450.70" cy="356.77" r="0.95" fill="#d81010"/>
<circle cx="452.95" cy="356.61" r="0.95" fill="#d81010"/>
<circle cx="455.20" cy="356.38" r="0.95" fill="#d81010"/>
<circle cx="457.45" cy="355.97" r="0.95" fill="#d81010"/>
<circle cx="459.45" cy="355.32" r="0.95" fill="#d81010"/>
<circle cx="461.45" cy="354.16" r="0.95" fill="#d81010"/>
<circle cx="463.20" cy="352.46" r="0.95" fill="#d81010"/>
<circle cx="464.45" cy="350.70" r="0.95" fill="#d81010"/>
<circle cx="465.70" cy="348.34" r="0.95" fill="#d81010"/>
<circle cx="466.70" cy="345.95" r="0.95" fill="#d81010"/>
<circle cx="467.45" cy="343.85" r="0.95" fill="#d81010"/>
<circle cx="468.20" cy="341.46" r="0.95" fill="#d81010"/>
<circle cx="468.95" cy="338.78" r="0.95" fill="#d81010"/>
<circle cx="469.70" cy="335.83" r="0.95" fill="#d81010"/>
<circle cx="470.20" cy="333.71" r="0.95" fill="#d81010"/>
<circle cx="470.70" cy="331.48" r="0.95" fill="#d81010"/>
<circle cx="471.20" cy="329.16" r="0.95" fill="#d81010"/>
<circle cx="471.70" cy="326.75" r="0.95" fill="#d81010"/>
<circle cx="472.20" cy="324.27" r="0.95" fill="#d81010"/>
<circle cx="472.70" cy="321.74" r="0.95" fill="#d81010"/>
<circle cx="473.20" cy="319.18" r="0.95" fill="#d81010"/>
<circle cx="473.70" cy="316.62" r="0.95" fill="#d81010"/>
<circle cx="474.20" cy="314.07" r="0.95" fill="#d81010"/>
<circle cx="474.70" cy="311.57" r="0.95" fill="#d81010"/>
<circle cx="475.20" cy="309.15" r="0.95" fill="#d81010"/>
<circle cx="475.70" cy="306.84" r="0.95" fill="#d81010"/>
<circle cx="476.20" cy="304.67" r="0.95" fill="#d81010"/>
<circle cx="476.95" cy="301.74" r="0.95" fill="#d81010"/>
<circle cx="477.70" cy="299.31" r="0.95" fill="#d81010"/>
<circle cx="478.70" cy="297.02" r="0.95" fill="#d81010"/>
<circle cx="480.45" cy="296.04" r="0.95" fill="#d81010"/>
<circle cx="481.70" cy="297.80" r="0.95" fill="#d81010"/>
<circle cx="482.70" cy="300.54" r="0.95" fill="#d81010"/>
<circle cx="483.45" cy="303.25" r="0.95" fill="#d81010"/>
<circle cx="483.95" cy="305.30" r="0.95" fill="#d81010"/>
<circle cx="484.45" cy="307.52" r="0.95" fill="#d81010"/>
<circle cx="484.95" cy="309.87" r="0.95" fill="#d81010"/>
<circle cx="485.45" cy="312.32" r="0.95" fill="#d81010"/>
<circle cx="485.95" cy="314.83" r="0.95" fill="#d81010"/>
<circle cx="486.45" cy="317.39" r="0.95" fill="#d81010"/>
<circle cx="486.95" cy="319.95" r="0.95" fill="#d81010"/>
<circle cx="487.45" cy="322.50" r="0.95" fill="#d81010"/>
<circle cx="487.95" cy="325.02" r="0.95" fill="#d81010"/>
<circle cx="488.45" cy="327.48" r="0.95" fill="#d81010"/>
<circle cx="488.95" cy="329.87" r="0.95" fill="#d81010"/>
<circle cx="489.45" cy="332.16" r="0.95" fill="#d81010"/>
<circle cx="489.95" cy="334.36" r="0.95" fill="#d81010"/>
<circle cx="490.45" cy="336.44" r="0.95" fill="#d81010"/>
<circle cx="491.20" cy="339.34" r="0.95" fill="#d81010"/>
<circle cx="491.95" cy="341.96" r="0.95" fill="#d81010"/>
<circle cx="492.70" cy="344.29" r="0.95" fill="#d81010"/>
<circle cx="493.45" cy="346.34" r="0.95" fill="#d81010"/>
<circle cx="494.45" cy="348.65" r="0.95" fill="#d81010"/>
<circle cx="495.45" cy="350.53" r="0.95" fill="#d81010"/>
<circle cx="496.70" cy="352.34" r="0.95" fill="#d81010"/>
<circle cx="498.20" cy="353.88" r="0.95" fill="#d81010"/>
<circle cx="499.95" cy="355.04" r="0.95" fill="#d81010"/>
<circle cx="501.95" cy="355.81" r="0.95" fill="#d81010"/>
<circle cx="504.20" cy="356.29" r="0.95" fill="#d81010"/>
<circle cx="506.45" cy="356.56" r="0.95" fill="#d81010"/>
<circle cx="508.70" cy="356.73" r="0.95" fill="#d81010"/>
<circle cx="510.95" cy="356.85" r="0.95" fill="#d81010"/>
<circle cx="513.20" cy="356.95" r="0.95" fill="#d81010"/>
<circle cx="515.45" cy="357.02" r="0.95" fill="#d81010"/>
<circle cx="517.70" cy="357.09" r="0.95" fill="#d81010"/>
<circle cx="519.95" cy="357.14" r="0.95" fill="#d81010"/>
<circle cx="522.20" cy="357.19" r="0.95" fill="#d81010"/>
<circle cx="524.45" cy="357.23" r="0.95" fill="#d81010"/>
<circle cx="526.70" cy="357.26" r="0.95" fill="#d81010"/>
<circle cx="528.95" cy="357.29" r="0.95" fill="#d81010"/>
<circle cx="531.20" cy="357.32" r="0.95" fill="#d81010"/>
<circle cx="533.45" cy="357.34" r="0.95" fill="#d81010"/>
<circle cx="535.70" cy="357.36" r="0.95" fill="#d81010"/>
<circle cx="537.95" cy="357.38" r="0.95" fill="#d81010"/>
<circle cx="540.20" cy="357.39" r="0.95" fill="#d81010"/>
<rect x="414.00" y="270.90" width="127.90" height="93.90" fill="none" stroke="#4a4a4a" stroke-width="1.3"/>
<line x1="414.00" y1="364.80" x2="414.00" y2="362.60" stroke="#4a4a4a" stroke-width="1.0"/>
<text x="414.00" y="374.00" font-size="8" font-weight="bold" text-anchor="middle" fill="#000">540</text>
<line x1="441.39" y1="364.80" x2="441.39" y2="362.60" stroke="#4a4a4a" stroke-width="1.0"/>
<text x="441.39" y="374.00" font-size="8" font-weight="bold" text-anchor="middle" fill="#000">537</text>
<line x1="468.78" y1="364.80" x2="468.78" y2="362.60" stroke="#4a4a4a" stroke-width="1.0"/>
<text x="468.78" y="374.00" font-size="8" font-weight="bold" text-anchor="middle" fill="#000">534</text>
<line x1="496.17" y1="364.80" x2="496.17" y2="362.60" stroke="#4a4a4a" stroke-width="1.0"/>
<text x="496.17" y="374.00" font-size="8" font-weight="bold" text-anchor="middle" fill="#000">531</text>
<line x1="523.56" y1="364.80" x2="523.56" y2="362.60" stroke="#4a4a4a" stroke-width="1.0"/>
<text x="523.56" y="374.00" font-size="8" font-weight="bold" text-anchor="middle" fill="#000">528</text>
<line x1="427.69" y1="364.80" x2="427.69" y2="363.50" stroke="#4a4a4a" stroke-width="1.0"/>
<line x1="455.08" y1="364.80" x2="455.08" y2="363.50" stroke="#4a4a4a" stroke-width="1.0"/>
<line x1="482.48" y1="364.80" x2="482.48" y2="363.50" stroke="#4a4a4a" stroke-width="1.0"/>
<line x1="509.87" y1="364.80" x2="509.87" y2="363.50" stroke="#4a4a4a" stroke-width="1.0"/>
<line x1="537.25" y1="364.80" x2="537.25" y2="363.50" stroke="#4a4a4a" stroke-width="1.0"/>
<text x="477.95" y="384.80" font-size="8.15" font-weight="bold" text-anchor="middle" fill="#000">Binding Energy (eV)</text>
<text x="419.10" y="284.80" font-size="10.0" font-weight="bold" text-anchor="start" fill="#000">O 1s</text>
<text x="402.54" y="319.80" font-size="10.8" font-weight="bold" text-anchor="middle" fill="#000" transform="rotate(-90 402.54 319.8)">Intensity (a.u.)</text>
<text x="369.00" y="276.90" font-size="10" font-weight="bold" text-anchor="start" fill="#000">(i)</text>
<text x="490.00" y="292.40" font-size="10.0" font-weight="bold" text-anchor="start" fill="#000">532.76 eV</text>
</svg></body></html>
